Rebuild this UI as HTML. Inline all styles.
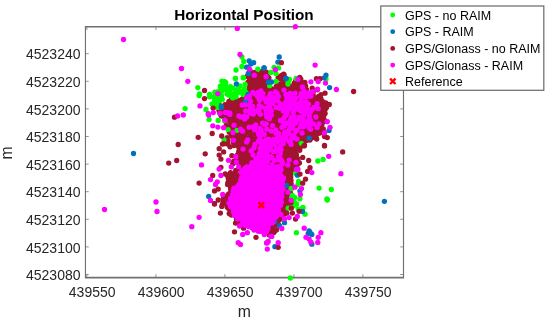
<!DOCTYPE html><html><head><meta charset="utf-8"><title>Horizontal Position</title><style>
html,body{margin:0;padding:0;background:#fff}
#fig{position:relative;width:550px;height:325px;overflow:hidden;background:#fff;font-family:"Liberation Sans",sans-serif;color:#262626}
.t{position:absolute;white-space:nowrap;line-height:1}
.xt{font-size:14px;transform:translateX(-50%);top:285.2px;margin-left:4.7px}
.yt{font-size:14px;transform:translateY(-50%);right:469.5px;text-align:right}
.lg{font-size:12.5px;left:405px;color:#000;transform:translateY(-50%)}
</style></head><body><div id="fig">
<svg width="550" height="325" viewBox="0 0 550 325" style="position:absolute;left:0;top:0"><rect width="550" height="325" fill="#fff"/><path d="M84.9 26.7 H404.05 M84.9 277.6 H404.05" stroke="#707070" stroke-width="1.6" fill="none"/><path d="M85.45 26.7 V277.6 M403.5 26.7 V277.6" stroke="#707070" stroke-width="1.15" fill="none"/><path d="M86.9 277.6 v-3.4 M86.9 26.7 v3.4 M155.9 277.6 v-3.4 M155.9 26.7 v3.4 M224.9 277.6 v-3.4 M224.9 26.7 v3.4 M293.9 277.6 v-3.4 M293.9 26.7 v3.4 M362.9 277.6 v-3.4 M362.9 26.7 v3.4 M85.45 274.5 h3.3 M403.5 274.5 h-3.3 M85.45 246.9 h3.3 M403.5 246.9 h-3.3 M85.45 219.3 h3.3 M403.5 219.3 h-3.3 M85.45 191.7 h3.3 M403.5 191.7 h-3.3 M85.45 164.1 h3.3 M403.5 164.1 h-3.3 M85.45 136.5 h3.3 M403.5 136.5 h-3.3 M85.45 108.9 h3.3 M403.5 108.9 h-3.3 M85.45 81.3 h3.3 M403.5 81.3 h-3.3 M85.45 53.7 h3.3 M403.5 53.7 h-3.3" stroke="#707070" stroke-width="0.75" fill="none"/><g fill="#a2142f"><circle cx="250.0" cy="70.4" r="2.65"/><circle cx="254.4" cy="72.3" r="2.65"/><circle cx="261.4" cy="71.7" r="2.65"/><circle cx="264.4" cy="72.0" r="2.65"/><circle cx="266.3" cy="72.1" r="2.65"/><circle cx="249.2" cy="72.6" r="2.65"/><circle cx="251.7" cy="74.2" r="2.65"/><circle cx="254.4" cy="74.4" r="2.65"/><circle cx="256.0" cy="72.8" r="2.65"/><circle cx="261.0" cy="74.7" r="2.65"/><circle cx="264.9" cy="73.5" r="2.65"/><circle cx="283.6" cy="74.1" r="2.65"/><circle cx="247.1" cy="76.4" r="2.65"/><circle cx="251.0" cy="74.8" r="2.65"/><circle cx="252.1" cy="75.5" r="2.65"/><circle cx="254.1" cy="77.1" r="2.65"/><circle cx="258.7" cy="75.0" r="2.65"/><circle cx="260.9" cy="75.0" r="2.65"/><circle cx="264.6" cy="75.4" r="2.65"/><circle cx="267.4" cy="76.0" r="2.65"/><circle cx="279.4" cy="76.6" r="2.65"/><circle cx="281.6" cy="75.3" r="2.65"/><circle cx="284.1" cy="74.9" r="2.65"/><circle cx="250.2" cy="77.9" r="2.65"/><circle cx="253.7" cy="77.6" r="2.65"/><circle cx="256.1" cy="77.1" r="2.65"/><circle cx="259.3" cy="77.2" r="2.65"/><circle cx="261.4" cy="77.0" r="2.65"/><circle cx="264.6" cy="77.1" r="2.65"/><circle cx="268.9" cy="77.8" r="2.65"/><circle cx="278.2" cy="77.6" r="2.65"/><circle cx="280.6" cy="79.1" r="2.65"/><circle cx="284.2" cy="77.2" r="2.65"/><circle cx="300.8" cy="79.1" r="2.65"/><circle cx="249.3" cy="81.0" r="2.65"/><circle cx="253.4" cy="81.3" r="2.65"/><circle cx="255.5" cy="80.2" r="2.65"/><circle cx="258.4" cy="81.3" r="2.65"/><circle cx="259.7" cy="80.1" r="2.65"/><circle cx="262.7" cy="79.5" r="2.65"/><circle cx="266.4" cy="81.6" r="2.65"/><circle cx="267.9" cy="80.9" r="2.65"/><circle cx="283.7" cy="79.4" r="2.65"/><circle cx="285.2" cy="80.4" r="2.65"/><circle cx="295.6" cy="80.9" r="2.65"/><circle cx="297.6" cy="79.5" r="2.65"/><circle cx="300.6" cy="80.4" r="2.65"/><circle cx="247.9" cy="82.4" r="2.65"/><circle cx="252.1" cy="82.4" r="2.65"/><circle cx="253.6" cy="82.1" r="2.65"/><circle cx="256.2" cy="81.6" r="2.65"/><circle cx="260.1" cy="82.0" r="2.65"/><circle cx="262.2" cy="83.2" r="2.65"/><circle cx="263.7" cy="81.8" r="2.65"/><circle cx="267.3" cy="81.4" r="2.65"/><circle cx="269.9" cy="82.3" r="2.65"/><circle cx="280.8" cy="84.0" r="2.65"/><circle cx="284.3" cy="81.9" r="2.65"/><circle cx="294.2" cy="83.1" r="2.65"/><circle cx="298.2" cy="83.7" r="2.65"/><circle cx="299.9" cy="82.9" r="2.65"/><circle cx="303.5" cy="83.2" r="2.65"/><circle cx="250.3" cy="86.2" r="2.65"/><circle cx="254.0" cy="84.3" r="2.65"/><circle cx="256.4" cy="85.7" r="2.65"/><circle cx="258.5" cy="84.9" r="2.65"/><circle cx="260.3" cy="84.6" r="2.65"/><circle cx="262.9" cy="85.4" r="2.65"/><circle cx="265.3" cy="84.1" r="2.65"/><circle cx="268.8" cy="84.1" r="2.65"/><circle cx="277.6" cy="84.7" r="2.65"/><circle cx="278.7" cy="85.4" r="2.65"/><circle cx="282.1" cy="85.0" r="2.65"/><circle cx="287.0" cy="85.3" r="2.65"/><circle cx="289.9" cy="86.0" r="2.65"/><circle cx="293.0" cy="86.2" r="2.65"/><circle cx="296.5" cy="85.3" r="2.65"/><circle cx="297.4" cy="84.9" r="2.65"/><circle cx="301.1" cy="86.3" r="2.65"/><circle cx="304.5" cy="85.5" r="2.65"/><circle cx="305.7" cy="86.1" r="2.65"/><circle cx="249.4" cy="86.9" r="2.65"/><circle cx="251.5" cy="86.4" r="2.65"/><circle cx="254.0" cy="86.9" r="2.65"/><circle cx="256.0" cy="87.2" r="2.65"/><circle cx="258.6" cy="87.3" r="2.65"/><circle cx="262.0" cy="88.4" r="2.65"/><circle cx="265.7" cy="86.5" r="2.65"/><circle cx="267.6" cy="87.2" r="2.65"/><circle cx="271.2" cy="88.7" r="2.65"/><circle cx="276.2" cy="86.5" r="2.65"/><circle cx="281.4" cy="88.3" r="2.65"/><circle cx="283.5" cy="86.3" r="2.65"/><circle cx="285.4" cy="88.5" r="2.65"/><circle cx="289.1" cy="87.8" r="2.65"/><circle cx="293.0" cy="87.6" r="2.65"/><circle cx="295.6" cy="87.1" r="2.65"/><circle cx="297.8" cy="86.8" r="2.65"/><circle cx="299.7" cy="87.3" r="2.65"/><circle cx="302.4" cy="87.3" r="2.65"/><circle cx="247.1" cy="90.4" r="2.65"/><circle cx="249.8" cy="88.7" r="2.65"/><circle cx="251.5" cy="88.7" r="2.65"/><circle cx="255.8" cy="89.9" r="2.65"/><circle cx="257.0" cy="89.2" r="2.65"/><circle cx="260.9" cy="90.9" r="2.65"/><circle cx="263.2" cy="89.8" r="2.65"/><circle cx="265.1" cy="90.8" r="2.65"/><circle cx="267.6" cy="89.6" r="2.65"/><circle cx="272.0" cy="90.9" r="2.65"/><circle cx="274.8" cy="89.4" r="2.65"/><circle cx="275.9" cy="90.4" r="2.65"/><circle cx="279.9" cy="88.9" r="2.65"/><circle cx="281.4" cy="89.3" r="2.65"/><circle cx="285.1" cy="89.4" r="2.65"/><circle cx="288.7" cy="89.4" r="2.65"/><circle cx="290.4" cy="91.0" r="2.65"/><circle cx="293.7" cy="89.0" r="2.65"/><circle cx="296.5" cy="90.0" r="2.65"/><circle cx="297.4" cy="90.6" r="2.65"/><circle cx="301.8" cy="89.6" r="2.65"/><circle cx="304.1" cy="91.0" r="2.65"/><circle cx="306.5" cy="89.7" r="2.65"/><circle cx="247.9" cy="93.3" r="2.65"/><circle cx="251.7" cy="90.9" r="2.65"/><circle cx="252.9" cy="92.3" r="2.65"/><circle cx="258.0" cy="91.6" r="2.65"/><circle cx="258.2" cy="92.5" r="2.65"/><circle cx="260.8" cy="92.3" r="2.65"/><circle cx="265.3" cy="93.0" r="2.65"/><circle cx="267.6" cy="90.9" r="2.65"/><circle cx="269.3" cy="92.2" r="2.65"/><circle cx="272.9" cy="91.3" r="2.65"/><circle cx="275.4" cy="92.0" r="2.65"/><circle cx="278.3" cy="92.2" r="2.65"/><circle cx="281.2" cy="91.1" r="2.65"/><circle cx="283.3" cy="92.6" r="2.65"/><circle cx="287.7" cy="93.3" r="2.65"/><circle cx="290.1" cy="93.3" r="2.65"/><circle cx="291.8" cy="92.3" r="2.65"/><circle cx="294.8" cy="92.4" r="2.65"/><circle cx="296.1" cy="92.1" r="2.65"/><circle cx="298.6" cy="91.0" r="2.65"/><circle cx="303.8" cy="90.8" r="2.65"/><circle cx="306.2" cy="92.6" r="2.65"/><circle cx="308.7" cy="92.9" r="2.65"/><circle cx="313.2" cy="91.6" r="2.65"/><circle cx="245.8" cy="95.6" r="2.65"/><circle cx="253.7" cy="95.0" r="2.65"/><circle cx="255.2" cy="94.1" r="2.65"/><circle cx="257.4" cy="95.6" r="2.65"/><circle cx="259.9" cy="94.0" r="2.65"/><circle cx="262.9" cy="93.6" r="2.65"/><circle cx="266.2" cy="94.5" r="2.65"/><circle cx="269.6" cy="94.5" r="2.65"/><circle cx="270.4" cy="93.7" r="2.65"/><circle cx="273.7" cy="95.1" r="2.65"/><circle cx="277.0" cy="93.5" r="2.65"/><circle cx="279.8" cy="93.9" r="2.65"/><circle cx="283.6" cy="94.3" r="2.65"/><circle cx="286.0" cy="94.3" r="2.65"/><circle cx="288.9" cy="95.7" r="2.65"/><circle cx="291.2" cy="94.2" r="2.65"/><circle cx="292.2" cy="93.5" r="2.65"/><circle cx="295.1" cy="93.1" r="2.65"/><circle cx="299.4" cy="94.4" r="2.65"/><circle cx="301.2" cy="93.6" r="2.65"/><circle cx="303.4" cy="93.2" r="2.65"/><circle cx="307.0" cy="94.1" r="2.65"/><circle cx="309.7" cy="93.9" r="2.65"/><circle cx="313.1" cy="94.6" r="2.65"/><circle cx="243.7" cy="97.6" r="2.65"/><circle cx="246.7" cy="97.6" r="2.65"/><circle cx="249.4" cy="96.2" r="2.65"/><circle cx="252.4" cy="95.5" r="2.65"/><circle cx="253.6" cy="97.6" r="2.65"/><circle cx="257.8" cy="97.9" r="2.65"/><circle cx="258.2" cy="97.2" r="2.65"/><circle cx="263.4" cy="97.8" r="2.65"/><circle cx="264.0" cy="97.3" r="2.65"/><circle cx="268.8" cy="97.1" r="2.65"/><circle cx="270.8" cy="95.6" r="2.65"/><circle cx="275.8" cy="98.0" r="2.65"/><circle cx="278.3" cy="96.5" r="2.65"/><circle cx="279.7" cy="95.8" r="2.65"/><circle cx="283.0" cy="97.2" r="2.65"/><circle cx="286.9" cy="96.8" r="2.65"/><circle cx="288.5" cy="95.9" r="2.65"/><circle cx="292.3" cy="98.0" r="2.65"/><circle cx="295.7" cy="97.9" r="2.65"/><circle cx="298.4" cy="97.1" r="2.65"/><circle cx="300.6" cy="96.3" r="2.65"/><circle cx="302.7" cy="96.7" r="2.65"/><circle cx="306.3" cy="96.9" r="2.65"/><circle cx="308.7" cy="96.1" r="2.65"/><circle cx="310.9" cy="96.1" r="2.65"/><circle cx="312.2" cy="95.6" r="2.65"/><circle cx="316.2" cy="98.0" r="2.65"/><circle cx="318.6" cy="96.5" r="2.65"/><circle cx="231.5" cy="99.4" r="2.65"/><circle cx="235.1" cy="97.9" r="2.65"/><circle cx="238.1" cy="100.3" r="2.65"/><circle cx="241.8" cy="99.3" r="2.65"/><circle cx="245.9" cy="98.1" r="2.65"/><circle cx="246.5" cy="100.1" r="2.65"/><circle cx="249.7" cy="98.8" r="2.65"/><circle cx="252.0" cy="99.9" r="2.65"/><circle cx="255.2" cy="98.7" r="2.65"/><circle cx="257.9" cy="98.6" r="2.65"/><circle cx="260.5" cy="98.6" r="2.65"/><circle cx="263.3" cy="99.0" r="2.65"/><circle cx="266.0" cy="98.8" r="2.65"/><circle cx="270.1" cy="99.9" r="2.65"/><circle cx="274.9" cy="100.3" r="2.65"/><circle cx="277.4" cy="98.9" r="2.65"/><circle cx="278.9" cy="99.8" r="2.65"/><circle cx="283.6" cy="98.7" r="2.65"/><circle cx="283.7" cy="98.9" r="2.65"/><circle cx="287.1" cy="99.4" r="2.65"/><circle cx="294.3" cy="97.9" r="2.65"/><circle cx="296.7" cy="100.0" r="2.65"/><circle cx="298.8" cy="99.7" r="2.65"/><circle cx="301.9" cy="99.3" r="2.65"/><circle cx="304.5" cy="99.3" r="2.65"/><circle cx="308.0" cy="98.1" r="2.65"/><circle cx="308.9" cy="99.7" r="2.65"/><circle cx="311.4" cy="99.3" r="2.65"/><circle cx="314.7" cy="98.2" r="2.65"/><circle cx="318.5" cy="99.5" r="2.65"/><circle cx="321.0" cy="98.9" r="2.65"/><circle cx="228.9" cy="101.4" r="2.65"/><circle cx="233.2" cy="101.6" r="2.65"/><circle cx="236.4" cy="100.7" r="2.65"/><circle cx="238.1" cy="100.5" r="2.65"/><circle cx="240.1" cy="101.3" r="2.65"/><circle cx="244.1" cy="102.6" r="2.65"/><circle cx="245.0" cy="101.0" r="2.65"/><circle cx="247.8" cy="102.5" r="2.65"/><circle cx="250.6" cy="101.1" r="2.65"/><circle cx="254.6" cy="100.2" r="2.65"/><circle cx="255.5" cy="102.4" r="2.65"/><circle cx="259.6" cy="100.3" r="2.65"/><circle cx="261.7" cy="102.7" r="2.65"/><circle cx="265.8" cy="100.3" r="2.65"/><circle cx="266.2" cy="102.0" r="2.65"/><circle cx="269.6" cy="101.9" r="2.65"/><circle cx="275.8" cy="101.1" r="2.65"/><circle cx="277.6" cy="100.9" r="2.65"/><circle cx="279.7" cy="100.9" r="2.65"/><circle cx="283.1" cy="100.4" r="2.65"/><circle cx="286.3" cy="101.5" r="2.65"/><circle cx="294.3" cy="101.1" r="2.65"/><circle cx="297.1" cy="101.5" r="2.65"/><circle cx="300.7" cy="102.5" r="2.65"/><circle cx="301.3" cy="100.9" r="2.65"/><circle cx="306.1" cy="101.8" r="2.65"/><circle cx="307.2" cy="102.4" r="2.65"/><circle cx="311.2" cy="102.0" r="2.65"/><circle cx="313.3" cy="101.2" r="2.65"/><circle cx="317.1" cy="102.8" r="2.65"/><circle cx="319.7" cy="100.3" r="2.65"/><circle cx="322.8" cy="101.6" r="2.65"/><circle cx="325.8" cy="102.8" r="2.65"/><circle cx="219.1" cy="104.5" r="2.65"/><circle cx="225.0" cy="104.6" r="2.65"/><circle cx="229.0" cy="102.6" r="2.65"/><circle cx="231.9" cy="102.8" r="2.65"/><circle cx="232.5" cy="102.9" r="2.65"/><circle cx="237.7" cy="103.3" r="2.65"/><circle cx="240.0" cy="102.9" r="2.65"/><circle cx="242.2" cy="105.0" r="2.65"/><circle cx="244.7" cy="103.5" r="2.65"/><circle cx="246.6" cy="104.4" r="2.65"/><circle cx="249.9" cy="105.0" r="2.65"/><circle cx="252.1" cy="104.9" r="2.65"/><circle cx="254.2" cy="102.9" r="2.65"/><circle cx="257.5" cy="104.7" r="2.65"/><circle cx="262.0" cy="104.2" r="2.65"/><circle cx="263.1" cy="104.4" r="2.65"/><circle cx="265.0" cy="103.8" r="2.65"/><circle cx="268.9" cy="102.6" r="2.65"/><circle cx="272.9" cy="103.4" r="2.65"/><circle cx="273.3" cy="104.0" r="2.65"/><circle cx="276.1" cy="103.8" r="2.65"/><circle cx="280.4" cy="104.0" r="2.65"/><circle cx="281.5" cy="104.4" r="2.65"/><circle cx="286.0" cy="102.5" r="2.65"/><circle cx="287.7" cy="104.7" r="2.65"/><circle cx="291.1" cy="104.5" r="2.65"/><circle cx="291.9" cy="104.7" r="2.65"/><circle cx="294.9" cy="102.5" r="2.65"/><circle cx="299.6" cy="103.5" r="2.65"/><circle cx="305.1" cy="102.5" r="2.65"/><circle cx="306.1" cy="102.9" r="2.65"/><circle cx="308.5" cy="104.2" r="2.65"/><circle cx="311.2" cy="103.9" r="2.65"/><circle cx="313.8" cy="104.0" r="2.65"/><circle cx="317.1" cy="103.7" r="2.65"/><circle cx="320.5" cy="103.0" r="2.65"/><circle cx="321.5" cy="104.8" r="2.65"/><circle cx="221.8" cy="107.2" r="2.65"/><circle cx="225.2" cy="106.5" r="2.65"/><circle cx="226.0" cy="105.9" r="2.65"/><circle cx="228.7" cy="106.9" r="2.65"/><circle cx="232.7" cy="105.5" r="2.65"/><circle cx="235.4" cy="105.3" r="2.65"/><circle cx="238.8" cy="107.4" r="2.65"/><circle cx="240.1" cy="106.6" r="2.65"/><circle cx="244.1" cy="105.3" r="2.65"/><circle cx="245.5" cy="104.8" r="2.65"/><circle cx="247.3" cy="105.7" r="2.65"/><circle cx="252.6" cy="106.5" r="2.65"/><circle cx="254.6" cy="105.4" r="2.65"/><circle cx="257.3" cy="107.1" r="2.65"/><circle cx="259.2" cy="105.6" r="2.65"/><circle cx="261.6" cy="106.8" r="2.65"/><circle cx="265.3" cy="105.2" r="2.65"/><circle cx="268.8" cy="105.3" r="2.65"/><circle cx="269.3" cy="104.9" r="2.65"/><circle cx="272.0" cy="106.7" r="2.65"/><circle cx="276.1" cy="107.4" r="2.65"/><circle cx="277.2" cy="104.9" r="2.65"/><circle cx="284.7" cy="105.8" r="2.65"/><circle cx="286.8" cy="104.8" r="2.65"/><circle cx="287.8" cy="105.2" r="2.65"/><circle cx="291.9" cy="105.1" r="2.65"/><circle cx="295.4" cy="105.7" r="2.65"/><circle cx="311.0" cy="106.1" r="2.65"/><circle cx="312.2" cy="105.1" r="2.65"/><circle cx="316.6" cy="107.4" r="2.65"/><circle cx="318.2" cy="106.0" r="2.65"/><circle cx="322.3" cy="105.8" r="2.65"/><circle cx="324.2" cy="105.8" r="2.65"/><circle cx="326.5" cy="107.5" r="2.65"/><circle cx="220.1" cy="108.7" r="2.65"/><circle cx="222.5" cy="107.5" r="2.65"/><circle cx="224.6" cy="107.2" r="2.65"/><circle cx="228.3" cy="109.5" r="2.65"/><circle cx="230.3" cy="107.2" r="2.65"/><circle cx="233.7" cy="107.9" r="2.65"/><circle cx="235.7" cy="108.8" r="2.65"/><circle cx="240.3" cy="109.7" r="2.65"/><circle cx="241.4" cy="109.1" r="2.65"/><circle cx="245.3" cy="107.2" r="2.65"/><circle cx="246.3" cy="108.6" r="2.65"/><circle cx="250.9" cy="107.8" r="2.65"/><circle cx="252.2" cy="107.6" r="2.65"/><circle cx="256.1" cy="108.0" r="2.65"/><circle cx="258.6" cy="109.1" r="2.65"/><circle cx="259.7" cy="107.4" r="2.65"/><circle cx="264.3" cy="108.4" r="2.65"/><circle cx="265.8" cy="108.1" r="2.65"/><circle cx="270.1" cy="108.7" r="2.65"/><circle cx="272.1" cy="108.7" r="2.65"/><circle cx="275.0" cy="108.7" r="2.65"/><circle cx="278.2" cy="108.2" r="2.65"/><circle cx="286.0" cy="109.3" r="2.65"/><circle cx="288.7" cy="108.1" r="2.65"/><circle cx="289.8" cy="108.0" r="2.65"/><circle cx="294.0" cy="109.6" r="2.65"/><circle cx="295.5" cy="107.4" r="2.65"/><circle cx="298.9" cy="109.5" r="2.65"/><circle cx="300.6" cy="109.2" r="2.65"/><circle cx="312.4" cy="109.3" r="2.65"/><circle cx="313.9" cy="107.4" r="2.65"/><circle cx="318.2" cy="108.7" r="2.65"/><circle cx="320.0" cy="108.7" r="2.65"/><circle cx="321.6" cy="108.2" r="2.65"/><circle cx="219.0" cy="110.6" r="2.65"/><circle cx="222.1" cy="111.0" r="2.65"/><circle cx="225.2" cy="109.7" r="2.65"/><circle cx="225.8" cy="109.9" r="2.65"/><circle cx="229.2" cy="110.6" r="2.65"/><circle cx="232.6" cy="110.2" r="2.65"/><circle cx="234.6" cy="111.7" r="2.65"/><circle cx="236.5" cy="110.9" r="2.65"/><circle cx="241.5" cy="109.6" r="2.65"/><circle cx="243.9" cy="111.0" r="2.65"/><circle cx="245.7" cy="110.8" r="2.65"/><circle cx="248.5" cy="110.1" r="2.65"/><circle cx="254.1" cy="111.0" r="2.65"/><circle cx="258.0" cy="111.7" r="2.65"/><circle cx="258.5" cy="111.7" r="2.65"/><circle cx="261.2" cy="111.5" r="2.65"/><circle cx="266.0" cy="110.0" r="2.65"/><circle cx="266.6" cy="110.1" r="2.65"/><circle cx="271.3" cy="110.7" r="2.65"/><circle cx="272.5" cy="110.1" r="2.65"/><circle cx="276.2" cy="111.5" r="2.65"/><circle cx="278.2" cy="110.7" r="2.65"/><circle cx="280.9" cy="111.3" r="2.65"/><circle cx="283.2" cy="111.0" r="2.65"/><circle cx="285.2" cy="110.5" r="2.65"/><circle cx="287.8" cy="109.7" r="2.65"/><circle cx="293.0" cy="111.7" r="2.65"/><circle cx="294.0" cy="110.4" r="2.65"/><circle cx="296.2" cy="111.0" r="2.65"/><circle cx="299.6" cy="109.9" r="2.65"/><circle cx="301.3" cy="111.5" r="2.65"/><circle cx="305.9" cy="111.6" r="2.65"/><circle cx="311.3" cy="110.3" r="2.65"/><circle cx="313.0" cy="110.7" r="2.65"/><circle cx="315.5" cy="111.6" r="2.65"/><circle cx="319.1" cy="112.0" r="2.65"/><circle cx="320.6" cy="112.1" r="2.65"/><circle cx="325.0" cy="109.8" r="2.65"/><circle cx="220.0" cy="113.3" r="2.65"/><circle cx="223.4" cy="112.7" r="2.65"/><circle cx="225.3" cy="112.5" r="2.65"/><circle cx="227.8" cy="112.6" r="2.65"/><circle cx="229.8" cy="113.1" r="2.65"/><circle cx="234.8" cy="112.8" r="2.65"/><circle cx="236.5" cy="111.8" r="2.65"/><circle cx="239.9" cy="113.3" r="2.65"/><circle cx="241.4" cy="113.8" r="2.65"/><circle cx="245.3" cy="114.0" r="2.65"/><circle cx="247.9" cy="113.6" r="2.65"/><circle cx="250.0" cy="113.3" r="2.65"/><circle cx="253.5" cy="114.1" r="2.65"/><circle cx="256.0" cy="113.4" r="2.65"/><circle cx="259.2" cy="111.9" r="2.65"/><circle cx="260.4" cy="114.3" r="2.65"/><circle cx="263.6" cy="112.2" r="2.65"/><circle cx="266.1" cy="113.8" r="2.65"/><circle cx="272.2" cy="114.2" r="2.65"/><circle cx="273.6" cy="112.0" r="2.65"/><circle cx="277.6" cy="111.9" r="2.65"/><circle cx="279.7" cy="111.9" r="2.65"/><circle cx="281.9" cy="112.1" r="2.65"/><circle cx="286.2" cy="112.1" r="2.65"/><circle cx="287.1" cy="113.6" r="2.65"/><circle cx="290.0" cy="112.9" r="2.65"/><circle cx="293.0" cy="113.4" r="2.65"/><circle cx="297.0" cy="114.2" r="2.65"/><circle cx="297.8" cy="112.4" r="2.65"/><circle cx="301.6" cy="113.4" r="2.65"/><circle cx="305.3" cy="112.6" r="2.65"/><circle cx="305.5" cy="112.3" r="2.65"/><circle cx="310.3" cy="111.9" r="2.65"/><circle cx="311.4" cy="113.9" r="2.65"/><circle cx="314.1" cy="112.1" r="2.65"/><circle cx="318.7" cy="113.7" r="2.65"/><circle cx="320.8" cy="113.9" r="2.65"/><circle cx="322.2" cy="113.2" r="2.65"/><circle cx="325.1" cy="113.5" r="2.65"/><circle cx="221.2" cy="115.8" r="2.65"/><circle cx="224.9" cy="116.3" r="2.65"/><circle cx="226.2" cy="115.3" r="2.65"/><circle cx="229.8" cy="114.4" r="2.65"/><circle cx="232.1" cy="114.8" r="2.65"/><circle cx="234.3" cy="115.2" r="2.65"/><circle cx="238.9" cy="115.9" r="2.65"/><circle cx="241.5" cy="115.8" r="2.65"/><circle cx="243.5" cy="115.1" r="2.65"/><circle cx="244.7" cy="115.9" r="2.65"/><circle cx="249.1" cy="116.6" r="2.65"/><circle cx="251.6" cy="116.3" r="2.65"/><circle cx="254.8" cy="116.8" r="2.65"/><circle cx="255.4" cy="115.8" r="2.65"/><circle cx="260.4" cy="115.8" r="2.65"/><circle cx="260.8" cy="116.4" r="2.65"/><circle cx="266.1" cy="115.7" r="2.65"/><circle cx="268.2" cy="116.8" r="2.65"/><circle cx="271.3" cy="115.2" r="2.65"/><circle cx="272.4" cy="115.1" r="2.65"/><circle cx="275.3" cy="114.9" r="2.65"/><circle cx="277.2" cy="114.9" r="2.65"/><circle cx="280.0" cy="115.7" r="2.65"/><circle cx="284.5" cy="115.0" r="2.65"/><circle cx="285.6" cy="115.6" r="2.65"/><circle cx="287.8" cy="114.9" r="2.65"/><circle cx="291.2" cy="115.4" r="2.65"/><circle cx="293.9" cy="115.6" r="2.65"/><circle cx="296.8" cy="114.9" r="2.65"/><circle cx="300.6" cy="116.0" r="2.65"/><circle cx="303.6" cy="116.1" r="2.65"/><circle cx="304.3" cy="116.1" r="2.65"/><circle cx="309.3" cy="116.2" r="2.65"/><circle cx="310.9" cy="115.8" r="2.65"/><circle cx="312.4" cy="116.7" r="2.65"/><circle cx="315.5" cy="116.8" r="2.65"/><circle cx="317.6" cy="115.9" r="2.65"/><circle cx="320.7" cy="114.9" r="2.65"/><circle cx="323.7" cy="115.9" r="2.65"/><circle cx="223.4" cy="116.8" r="2.65"/><circle cx="226.2" cy="117.3" r="2.65"/><circle cx="228.6" cy="117.6" r="2.65"/><circle cx="230.4" cy="117.2" r="2.65"/><circle cx="233.3" cy="118.5" r="2.65"/><circle cx="235.6" cy="116.5" r="2.65"/><circle cx="239.8" cy="119.1" r="2.65"/><circle cx="240.7" cy="116.9" r="2.65"/><circle cx="244.9" cy="118.1" r="2.65"/><circle cx="246.7" cy="117.1" r="2.65"/><circle cx="249.0" cy="116.5" r="2.65"/><circle cx="252.4" cy="117.5" r="2.65"/><circle cx="254.8" cy="118.7" r="2.65"/><circle cx="257.0" cy="116.5" r="2.65"/><circle cx="261.8" cy="116.6" r="2.65"/><circle cx="262.7" cy="118.3" r="2.65"/><circle cx="266.8" cy="117.1" r="2.65"/><circle cx="270.1" cy="118.9" r="2.65"/><circle cx="271.7" cy="116.6" r="2.65"/><circle cx="275.4" cy="116.6" r="2.65"/><circle cx="275.7" cy="118.8" r="2.65"/><circle cx="278.5" cy="117.4" r="2.65"/><circle cx="282.2" cy="118.1" r="2.65"/><circle cx="284.0" cy="117.9" r="2.65"/><circle cx="287.6" cy="118.6" r="2.65"/><circle cx="291.3" cy="117.1" r="2.65"/><circle cx="293.9" cy="116.5" r="2.65"/><circle cx="295.9" cy="118.4" r="2.65"/><circle cx="299.1" cy="117.1" r="2.65"/><circle cx="301.2" cy="117.2" r="2.65"/><circle cx="302.8" cy="118.3" r="2.65"/><circle cx="305.4" cy="116.8" r="2.65"/><circle cx="310.3" cy="118.8" r="2.65"/><circle cx="313.4" cy="116.9" r="2.65"/><circle cx="315.9" cy="117.0" r="2.65"/><circle cx="316.4" cy="116.7" r="2.65"/><circle cx="320.4" cy="117.7" r="2.65"/><circle cx="323.2" cy="116.8" r="2.65"/><circle cx="225.3" cy="121.3" r="2.65"/><circle cx="229.7" cy="119.2" r="2.65"/><circle cx="231.2" cy="120.0" r="2.65"/><circle cx="234.9" cy="121.0" r="2.65"/><circle cx="238.8" cy="120.0" r="2.65"/><circle cx="239.3" cy="120.9" r="2.65"/><circle cx="243.0" cy="119.2" r="2.65"/><circle cx="244.7" cy="119.1" r="2.65"/><circle cx="248.4" cy="119.2" r="2.65"/><circle cx="251.6" cy="121.1" r="2.65"/><circle cx="253.1" cy="119.5" r="2.65"/><circle cx="256.9" cy="120.5" r="2.65"/><circle cx="258.2" cy="119.3" r="2.65"/><circle cx="263.0" cy="121.3" r="2.65"/><circle cx="264.2" cy="118.9" r="2.65"/><circle cx="267.3" cy="121.3" r="2.65"/><circle cx="269.4" cy="118.8" r="2.65"/><circle cx="273.7" cy="121.1" r="2.65"/><circle cx="274.3" cy="120.4" r="2.65"/><circle cx="278.6" cy="121.3" r="2.65"/><circle cx="280.4" cy="120.4" r="2.65"/><circle cx="284.4" cy="119.5" r="2.65"/><circle cx="286.9" cy="121.2" r="2.65"/><circle cx="290.3" cy="120.4" r="2.65"/><circle cx="292.2" cy="119.6" r="2.65"/><circle cx="293.3" cy="120.4" r="2.65"/><circle cx="296.1" cy="120.9" r="2.65"/><circle cx="300.6" cy="119.5" r="2.65"/><circle cx="303.8" cy="121.0" r="2.65"/><circle cx="306.6" cy="120.4" r="2.65"/><circle cx="308.3" cy="120.4" r="2.65"/><circle cx="310.4" cy="120.3" r="2.65"/><circle cx="313.8" cy="121.1" r="2.65"/><circle cx="315.4" cy="118.9" r="2.65"/><circle cx="318.6" cy="121.1" r="2.65"/><circle cx="321.5" cy="120.4" r="2.65"/><circle cx="324.7" cy="120.3" r="2.65"/><circle cx="230.5" cy="122.1" r="2.65"/><circle cx="234.4" cy="123.1" r="2.65"/><circle cx="237.7" cy="123.8" r="2.65"/><circle cx="240.5" cy="122.8" r="2.65"/><circle cx="240.7" cy="121.2" r="2.65"/><circle cx="245.1" cy="122.8" r="2.65"/><circle cx="247.1" cy="123.1" r="2.65"/><circle cx="250.3" cy="122.6" r="2.65"/><circle cx="252.8" cy="121.4" r="2.65"/><circle cx="255.9" cy="122.3" r="2.65"/><circle cx="258.0" cy="121.6" r="2.65"/><circle cx="260.4" cy="121.6" r="2.65"/><circle cx="262.6" cy="123.1" r="2.65"/><circle cx="266.2" cy="123.8" r="2.65"/><circle cx="269.8" cy="121.2" r="2.65"/><circle cx="272.7" cy="122.3" r="2.65"/><circle cx="274.1" cy="121.6" r="2.65"/><circle cx="276.8" cy="123.5" r="2.65"/><circle cx="279.8" cy="122.4" r="2.65"/><circle cx="283.1" cy="122.8" r="2.65"/><circle cx="286.3" cy="122.8" r="2.65"/><circle cx="287.9" cy="123.5" r="2.65"/><circle cx="295.6" cy="122.8" r="2.65"/><circle cx="298.9" cy="122.4" r="2.65"/><circle cx="302.1" cy="121.8" r="2.65"/><circle cx="304.1" cy="122.0" r="2.65"/><circle cx="307.2" cy="122.3" r="2.65"/><circle cx="308.7" cy="123.5" r="2.65"/><circle cx="313.0" cy="122.3" r="2.65"/><circle cx="315.0" cy="122.5" r="2.65"/><circle cx="317.6" cy="123.7" r="2.65"/><circle cx="319.0" cy="123.8" r="2.65"/><circle cx="321.6" cy="123.3" r="2.65"/><circle cx="324.3" cy="121.6" r="2.65"/><circle cx="327.0" cy="121.6" r="2.65"/><circle cx="226.3" cy="125.3" r="2.65"/><circle cx="231.0" cy="124.4" r="2.65"/><circle cx="232.3" cy="124.8" r="2.65"/><circle cx="234.0" cy="125.2" r="2.65"/><circle cx="236.5" cy="123.7" r="2.65"/><circle cx="239.7" cy="124.2" r="2.65"/><circle cx="243.1" cy="123.9" r="2.65"/><circle cx="247.2" cy="125.2" r="2.65"/><circle cx="248.7" cy="125.4" r="2.65"/><circle cx="252.1" cy="124.1" r="2.65"/><circle cx="252.9" cy="123.8" r="2.65"/><circle cx="255.8" cy="125.0" r="2.65"/><circle cx="260.6" cy="124.6" r="2.65"/><circle cx="263.3" cy="124.7" r="2.65"/><circle cx="264.8" cy="124.6" r="2.65"/><circle cx="267.9" cy="126.0" r="2.65"/><circle cx="269.7" cy="124.9" r="2.65"/><circle cx="272.6" cy="125.6" r="2.65"/><circle cx="275.6" cy="124.9" r="2.65"/><circle cx="278.9" cy="124.2" r="2.65"/><circle cx="280.3" cy="125.1" r="2.65"/><circle cx="284.2" cy="124.6" r="2.65"/><circle cx="286.5" cy="123.8" r="2.65"/><circle cx="288.4" cy="124.3" r="2.65"/><circle cx="294.8" cy="123.8" r="2.65"/><circle cx="296.2" cy="123.5" r="2.65"/><circle cx="301.2" cy="124.5" r="2.65"/><circle cx="303.2" cy="125.3" r="2.65"/><circle cx="306.0" cy="123.7" r="2.65"/><circle cx="308.8" cy="125.5" r="2.65"/><circle cx="310.7" cy="125.6" r="2.65"/><circle cx="313.5" cy="124.0" r="2.65"/><circle cx="315.3" cy="124.9" r="2.65"/><circle cx="318.7" cy="125.2" r="2.65"/><circle cx="321.9" cy="124.6" r="2.65"/><circle cx="230.8" cy="127.3" r="2.65"/><circle cx="233.4" cy="125.8" r="2.65"/><circle cx="236.4" cy="128.4" r="2.65"/><circle cx="240.2" cy="128.4" r="2.65"/><circle cx="241.3" cy="125.9" r="2.65"/><circle cx="243.4" cy="126.6" r="2.65"/><circle cx="247.7" cy="128.0" r="2.65"/><circle cx="249.1" cy="127.2" r="2.65"/><circle cx="254.8" cy="127.6" r="2.65"/><circle cx="257.4" cy="126.0" r="2.65"/><circle cx="261.0" cy="127.7" r="2.65"/><circle cx="264.6" cy="127.8" r="2.65"/><circle cx="267.2" cy="126.3" r="2.65"/><circle cx="269.0" cy="127.4" r="2.65"/><circle cx="272.0" cy="125.9" r="2.65"/><circle cx="274.2" cy="126.4" r="2.65"/><circle cx="277.3" cy="128.1" r="2.65"/><circle cx="279.0" cy="127.1" r="2.65"/><circle cx="282.0" cy="127.4" r="2.65"/><circle cx="284.4" cy="126.1" r="2.65"/><circle cx="287.8" cy="127.8" r="2.65"/><circle cx="292.6" cy="128.2" r="2.65"/><circle cx="296.8" cy="126.5" r="2.65"/><circle cx="299.0" cy="126.3" r="2.65"/><circle cx="300.3" cy="126.9" r="2.65"/><circle cx="303.5" cy="126.8" r="2.65"/><circle cx="306.4" cy="126.1" r="2.65"/><circle cx="309.0" cy="127.7" r="2.65"/><circle cx="313.3" cy="128.2" r="2.65"/><circle cx="315.7" cy="128.3" r="2.65"/><circle cx="317.2" cy="127.4" r="2.65"/><circle cx="319.8" cy="126.7" r="2.65"/><circle cx="321.5" cy="127.8" r="2.65"/><circle cx="228.7" cy="128.2" r="2.65"/><circle cx="231.5" cy="128.4" r="2.65"/><circle cx="234.0" cy="128.5" r="2.65"/><circle cx="237.3" cy="130.3" r="2.65"/><circle cx="240.6" cy="129.2" r="2.65"/><circle cx="244.1" cy="129.2" r="2.65"/><circle cx="244.8" cy="129.3" r="2.65"/><circle cx="247.7" cy="128.3" r="2.65"/><circle cx="252.5" cy="130.8" r="2.65"/><circle cx="254.6" cy="129.8" r="2.65"/><circle cx="255.8" cy="129.9" r="2.65"/><circle cx="259.9" cy="128.3" r="2.65"/><circle cx="261.1" cy="130.2" r="2.65"/><circle cx="264.2" cy="130.3" r="2.65"/><circle cx="266.9" cy="129.2" r="2.65"/><circle cx="269.0" cy="128.2" r="2.65"/><circle cx="273.9" cy="129.6" r="2.65"/><circle cx="275.7" cy="130.0" r="2.65"/><circle cx="278.1" cy="129.8" r="2.65"/><circle cx="281.4" cy="129.1" r="2.65"/><circle cx="282.9" cy="129.5" r="2.65"/><circle cx="286.5" cy="128.3" r="2.65"/><circle cx="289.7" cy="128.6" r="2.65"/><circle cx="293.1" cy="129.8" r="2.65"/><circle cx="295.2" cy="130.8" r="2.65"/><circle cx="296.9" cy="130.2" r="2.65"/><circle cx="299.8" cy="128.9" r="2.65"/><circle cx="303.2" cy="130.5" r="2.65"/><circle cx="305.8" cy="128.4" r="2.65"/><circle cx="309.2" cy="129.8" r="2.65"/><circle cx="310.7" cy="129.3" r="2.65"/><circle cx="312.6" cy="130.3" r="2.65"/><circle cx="314.9" cy="129.8" r="2.65"/><circle cx="319.2" cy="128.6" r="2.65"/><circle cx="320.6" cy="129.5" r="2.65"/><circle cx="323.3" cy="128.9" r="2.65"/><circle cx="229.3" cy="132.2" r="2.65"/><circle cx="232.0" cy="132.8" r="2.65"/><circle cx="233.0" cy="132.5" r="2.65"/><circle cx="235.6" cy="131.4" r="2.65"/><circle cx="237.9" cy="130.9" r="2.65"/><circle cx="242.6" cy="131.2" r="2.65"/><circle cx="245.5" cy="133.1" r="2.65"/><circle cx="247.4" cy="130.7" r="2.65"/><circle cx="250.4" cy="132.7" r="2.65"/><circle cx="252.7" cy="133.1" r="2.65"/><circle cx="255.2" cy="132.2" r="2.65"/><circle cx="258.3" cy="133.0" r="2.65"/><circle cx="261.8" cy="132.9" r="2.65"/><circle cx="262.2" cy="132.1" r="2.65"/><circle cx="267.4" cy="132.0" r="2.65"/><circle cx="269.6" cy="130.9" r="2.65"/><circle cx="271.4" cy="131.1" r="2.65"/><circle cx="273.9" cy="132.5" r="2.65"/><circle cx="276.5" cy="130.6" r="2.65"/><circle cx="280.3" cy="132.7" r="2.65"/><circle cx="281.2" cy="131.2" r="2.65"/><circle cx="284.5" cy="132.7" r="2.65"/><circle cx="286.4" cy="131.7" r="2.65"/><circle cx="289.2" cy="132.1" r="2.65"/><circle cx="293.3" cy="130.7" r="2.65"/><circle cx="295.9" cy="131.3" r="2.65"/><circle cx="297.6" cy="131.8" r="2.65"/><circle cx="301.5" cy="132.3" r="2.65"/><circle cx="304.2" cy="131.2" r="2.65"/><circle cx="305.9" cy="132.1" r="2.65"/><circle cx="310.2" cy="131.9" r="2.65"/><circle cx="313.4" cy="132.6" r="2.65"/><circle cx="314.1" cy="132.2" r="2.65"/><circle cx="316.6" cy="130.7" r="2.65"/><circle cx="319.8" cy="133.0" r="2.65"/><circle cx="322.9" cy="131.4" r="2.65"/><circle cx="324.5" cy="132.8" r="2.65"/><circle cx="231.2" cy="134.9" r="2.65"/><circle cx="234.0" cy="135.3" r="2.65"/><circle cx="238.1" cy="134.4" r="2.65"/><circle cx="240.1" cy="133.2" r="2.65"/><circle cx="242.9" cy="134.4" r="2.65"/><circle cx="244.8" cy="134.0" r="2.65"/><circle cx="249.8" cy="134.5" r="2.65"/><circle cx="251.2" cy="132.9" r="2.65"/><circle cx="252.8" cy="133.2" r="2.65"/><circle cx="256.8" cy="133.4" r="2.65"/><circle cx="258.9" cy="134.7" r="2.65"/><circle cx="263.0" cy="134.0" r="2.65"/><circle cx="264.2" cy="134.5" r="2.65"/><circle cx="268.6" cy="133.4" r="2.65"/><circle cx="269.0" cy="134.1" r="2.65"/><circle cx="272.1" cy="133.3" r="2.65"/><circle cx="276.0" cy="133.2" r="2.65"/><circle cx="278.6" cy="133.5" r="2.65"/><circle cx="281.5" cy="135.2" r="2.65"/><circle cx="284.7" cy="133.4" r="2.65"/><circle cx="286.7" cy="134.5" r="2.65"/><circle cx="289.2" cy="133.5" r="2.65"/><circle cx="290.7" cy="133.0" r="2.65"/><circle cx="293.4" cy="135.2" r="2.65"/><circle cx="296.2" cy="135.4" r="2.65"/><circle cx="298.6" cy="133.9" r="2.65"/><circle cx="302.1" cy="133.0" r="2.65"/><circle cx="304.0" cy="134.0" r="2.65"/><circle cx="307.3" cy="135.3" r="2.65"/><circle cx="310.7" cy="135.0" r="2.65"/><circle cx="314.1" cy="134.9" r="2.65"/><circle cx="316.7" cy="133.8" r="2.65"/><circle cx="318.6" cy="133.1" r="2.65"/><circle cx="232.1" cy="136.3" r="2.65"/><circle cx="234.2" cy="137.3" r="2.65"/><circle cx="235.3" cy="135.7" r="2.65"/><circle cx="240.0" cy="137.7" r="2.65"/><circle cx="241.8" cy="137.6" r="2.65"/><circle cx="244.8" cy="137.6" r="2.65"/><circle cx="246.1" cy="137.8" r="2.65"/><circle cx="250.3" cy="137.2" r="2.65"/><circle cx="252.1" cy="137.6" r="2.65"/><circle cx="256.6" cy="135.4" r="2.65"/><circle cx="258.7" cy="137.7" r="2.65"/><circle cx="260.2" cy="135.4" r="2.65"/><circle cx="262.8" cy="136.7" r="2.65"/><circle cx="265.2" cy="135.4" r="2.65"/><circle cx="269.7" cy="135.5" r="2.65"/><circle cx="272.8" cy="136.1" r="2.65"/><circle cx="275.1" cy="135.2" r="2.65"/><circle cx="277.7" cy="137.2" r="2.65"/><circle cx="279.6" cy="137.7" r="2.65"/><circle cx="281.2" cy="136.9" r="2.65"/><circle cx="284.1" cy="135.7" r="2.65"/><circle cx="288.5" cy="136.7" r="2.65"/><circle cx="289.2" cy="135.7" r="2.65"/><circle cx="293.8" cy="135.4" r="2.65"/><circle cx="295.3" cy="136.3" r="2.65"/><circle cx="297.7" cy="135.4" r="2.65"/><circle cx="302.5" cy="136.9" r="2.65"/><circle cx="302.9" cy="136.8" r="2.65"/><circle cx="307.6" cy="136.8" r="2.65"/><circle cx="310.5" cy="137.7" r="2.65"/><circle cx="311.9" cy="135.4" r="2.65"/><circle cx="314.0" cy="137.0" r="2.65"/><circle cx="316.1" cy="137.6" r="2.65"/><circle cx="324.5" cy="136.6" r="2.65"/><circle cx="227.2" cy="137.6" r="2.65"/><circle cx="233.4" cy="137.9" r="2.65"/><circle cx="234.6" cy="138.9" r="2.65"/><circle cx="238.7" cy="139.8" r="2.65"/><circle cx="239.2" cy="138.4" r="2.65"/><circle cx="241.9" cy="138.4" r="2.65"/><circle cx="246.9" cy="138.1" r="2.65"/><circle cx="247.7" cy="139.8" r="2.65"/><circle cx="251.1" cy="138.1" r="2.65"/><circle cx="255.3" cy="139.4" r="2.65"/><circle cx="256.3" cy="140.1" r="2.65"/><circle cx="259.8" cy="138.1" r="2.65"/><circle cx="262.2" cy="138.8" r="2.65"/><circle cx="266.1" cy="139.7" r="2.65"/><circle cx="268.8" cy="139.2" r="2.65"/><circle cx="269.4" cy="140.1" r="2.65"/><circle cx="273.5" cy="139.3" r="2.65"/><circle cx="276.8" cy="138.3" r="2.65"/><circle cx="278.4" cy="138.8" r="2.65"/><circle cx="282.1" cy="139.8" r="2.65"/><circle cx="284.7" cy="138.0" r="2.65"/><circle cx="285.9" cy="137.6" r="2.65"/><circle cx="287.8" cy="140.1" r="2.65"/><circle cx="291.7" cy="137.7" r="2.65"/><circle cx="295.2" cy="138.3" r="2.65"/><circle cx="297.0" cy="139.1" r="2.65"/><circle cx="299.6" cy="139.0" r="2.65"/><circle cx="302.3" cy="140.2" r="2.65"/><circle cx="306.0" cy="137.7" r="2.65"/><circle cx="308.1" cy="138.0" r="2.65"/><circle cx="311.7" cy="137.9" r="2.65"/><circle cx="316.7" cy="139.0" r="2.65"/><circle cx="225.4" cy="141.2" r="2.65"/><circle cx="228.0" cy="140.5" r="2.65"/><circle cx="233.6" cy="140.3" r="2.65"/><circle cx="237.0" cy="141.5" r="2.65"/><circle cx="239.2" cy="140.9" r="2.65"/><circle cx="240.6" cy="140.5" r="2.65"/><circle cx="244.1" cy="140.7" r="2.65"/><circle cx="246.7" cy="141.9" r="2.65"/><circle cx="250.1" cy="141.8" r="2.65"/><circle cx="253.3" cy="140.8" r="2.65"/><circle cx="254.3" cy="140.7" r="2.65"/><circle cx="258.4" cy="141.1" r="2.65"/><circle cx="260.9" cy="142.2" r="2.65"/><circle cx="262.7" cy="141.5" r="2.65"/><circle cx="265.1" cy="140.0" r="2.65"/><circle cx="269.9" cy="141.9" r="2.65"/><circle cx="272.6" cy="142.1" r="2.65"/><circle cx="273.9" cy="142.5" r="2.65"/><circle cx="277.3" cy="141.5" r="2.65"/><circle cx="278.5" cy="140.7" r="2.65"/><circle cx="282.7" cy="141.6" r="2.65"/><circle cx="286.2" cy="139.8" r="2.65"/><circle cx="286.7" cy="140.8" r="2.65"/><circle cx="290.4" cy="142.0" r="2.65"/><circle cx="292.8" cy="142.0" r="2.65"/><circle cx="296.5" cy="141.5" r="2.65"/><circle cx="297.3" cy="140.8" r="2.65"/><circle cx="300.9" cy="140.6" r="2.65"/><circle cx="304.2" cy="141.7" r="2.65"/><circle cx="306.4" cy="140.6" r="2.65"/><circle cx="309.9" cy="140.1" r="2.65"/><circle cx="222.4" cy="144.1" r="2.65"/><circle cx="225.5" cy="143.7" r="2.65"/><circle cx="228.0" cy="144.1" r="2.65"/><circle cx="233.4" cy="142.2" r="2.65"/><circle cx="234.9" cy="144.5" r="2.65"/><circle cx="241.3" cy="143.9" r="2.65"/><circle cx="242.2" cy="143.0" r="2.65"/><circle cx="246.7" cy="144.2" r="2.65"/><circle cx="249.6" cy="143.6" r="2.65"/><circle cx="252.2" cy="143.6" r="2.65"/><circle cx="255.0" cy="144.4" r="2.65"/><circle cx="255.4" cy="144.1" r="2.65"/><circle cx="258.6" cy="144.5" r="2.65"/><circle cx="261.2" cy="142.6" r="2.65"/><circle cx="269.2" cy="144.1" r="2.65"/><circle cx="274.0" cy="143.4" r="2.65"/><circle cx="274.9" cy="144.5" r="2.65"/><circle cx="279.4" cy="142.3" r="2.65"/><circle cx="279.7" cy="144.1" r="2.65"/><circle cx="283.2" cy="143.8" r="2.65"/><circle cx="285.2" cy="144.4" r="2.65"/><circle cx="289.9" cy="142.3" r="2.65"/><circle cx="291.1" cy="144.4" r="2.65"/><circle cx="293.2" cy="143.2" r="2.65"/><circle cx="298.1" cy="144.5" r="2.65"/><circle cx="303.0" cy="142.4" r="2.65"/><circle cx="233.8" cy="145.6" r="2.65"/><circle cx="237.9" cy="145.9" r="2.65"/><circle cx="241.8" cy="146.6" r="2.65"/><circle cx="245.2" cy="146.2" r="2.65"/><circle cx="246.2" cy="146.5" r="2.65"/><circle cx="249.6" cy="146.1" r="2.65"/><circle cx="253.6" cy="146.0" r="2.65"/><circle cx="254.1" cy="145.8" r="2.65"/><circle cx="258.3" cy="146.3" r="2.65"/><circle cx="272.4" cy="146.2" r="2.65"/><circle cx="273.7" cy="145.0" r="2.65"/><circle cx="277.8" cy="146.0" r="2.65"/><circle cx="282.1" cy="147.0" r="2.65"/><circle cx="284.2" cy="147.0" r="2.65"/><circle cx="287.4" cy="146.5" r="2.65"/><circle cx="291.0" cy="145.9" r="2.65"/><circle cx="294.3" cy="146.9" r="2.65"/><circle cx="295.5" cy="146.4" r="2.65"/><circle cx="297.5" cy="145.9" r="2.65"/><circle cx="301.6" cy="145.0" r="2.65"/><circle cx="239.3" cy="148.3" r="2.65"/><circle cx="243.0" cy="149.1" r="2.65"/><circle cx="245.2" cy="149.5" r="2.65"/><circle cx="247.4" cy="147.6" r="2.65"/><circle cx="251.4" cy="147.9" r="2.65"/><circle cx="253.9" cy="148.1" r="2.65"/><circle cx="256.7" cy="148.4" r="2.65"/><circle cx="270.5" cy="147.2" r="2.65"/><circle cx="271.9" cy="148.3" r="2.65"/><circle cx="276.6" cy="149.4" r="2.65"/><circle cx="282.2" cy="148.2" r="2.65"/><circle cx="282.5" cy="147.9" r="2.65"/><circle cx="287.3" cy="148.2" r="2.65"/><circle cx="289.8" cy="148.0" r="2.65"/><circle cx="291.8" cy="147.2" r="2.65"/><circle cx="295.4" cy="149.3" r="2.65"/><circle cx="297.9" cy="147.0" r="2.65"/><circle cx="299.9" cy="147.9" r="2.65"/><circle cx="239.3" cy="150.6" r="2.65"/><circle cx="243.0" cy="150.8" r="2.65"/><circle cx="244.5" cy="151.6" r="2.65"/><circle cx="247.3" cy="150.0" r="2.65"/><circle cx="251.2" cy="150.9" r="2.65"/><circle cx="252.7" cy="150.3" r="2.65"/><circle cx="254.8" cy="151.6" r="2.65"/><circle cx="258.9" cy="149.9" r="2.65"/><circle cx="260.9" cy="150.7" r="2.65"/><circle cx="264.6" cy="150.7" r="2.65"/><circle cx="265.8" cy="150.4" r="2.65"/><circle cx="268.7" cy="149.9" r="2.65"/><circle cx="271.2" cy="149.3" r="2.65"/><circle cx="273.2" cy="151.6" r="2.65"/><circle cx="276.3" cy="150.7" r="2.65"/><circle cx="285.6" cy="149.9" r="2.65"/><circle cx="287.4" cy="150.6" r="2.65"/><circle cx="290.6" cy="150.9" r="2.65"/><circle cx="292.5" cy="150.7" r="2.65"/><circle cx="299.7" cy="150.3" r="2.65"/><circle cx="238.7" cy="152.0" r="2.65"/><circle cx="239.5" cy="154.0" r="2.65"/><circle cx="242.0" cy="154.1" r="2.65"/><circle cx="246.4" cy="151.9" r="2.65"/><circle cx="248.5" cy="152.8" r="2.65"/><circle cx="250.4" cy="153.8" r="2.65"/><circle cx="254.7" cy="153.5" r="2.65"/><circle cx="256.8" cy="152.3" r="2.65"/><circle cx="259.2" cy="153.6" r="2.65"/><circle cx="261.8" cy="151.8" r="2.65"/><circle cx="264.0" cy="151.6" r="2.65"/><circle cx="267.2" cy="153.9" r="2.65"/><circle cx="271.5" cy="151.8" r="2.65"/><circle cx="272.5" cy="152.2" r="2.65"/><circle cx="275.2" cy="151.6" r="2.65"/><circle cx="278.8" cy="153.5" r="2.65"/><circle cx="280.3" cy="153.6" r="2.65"/><circle cx="283.7" cy="152.3" r="2.65"/><circle cx="287.5" cy="152.2" r="2.65"/><circle cx="290.2" cy="152.8" r="2.65"/><circle cx="291.9" cy="152.5" r="2.65"/><circle cx="294.9" cy="152.6" r="2.65"/><circle cx="296.1" cy="153.8" r="2.65"/><circle cx="237.4" cy="155.0" r="2.65"/><circle cx="240.2" cy="156.3" r="2.65"/><circle cx="242.8" cy="155.7" r="2.65"/><circle cx="245.7" cy="154.3" r="2.65"/><circle cx="246.9" cy="154.0" r="2.65"/><circle cx="249.3" cy="156.3" r="2.65"/><circle cx="253.1" cy="155.0" r="2.65"/><circle cx="254.8" cy="154.7" r="2.65"/><circle cx="258.8" cy="156.4" r="2.65"/><circle cx="260.0" cy="154.9" r="2.65"/><circle cx="262.7" cy="155.9" r="2.65"/><circle cx="266.3" cy="154.2" r="2.65"/><circle cx="268.3" cy="155.1" r="2.65"/><circle cx="272.2" cy="155.0" r="2.65"/><circle cx="273.6" cy="154.4" r="2.65"/><circle cx="277.7" cy="155.8" r="2.65"/><circle cx="280.3" cy="154.8" r="2.65"/><circle cx="283.0" cy="156.0" r="2.65"/><circle cx="286.2" cy="155.1" r="2.65"/><circle cx="287.6" cy="156.4" r="2.65"/><circle cx="290.5" cy="155.4" r="2.65"/><circle cx="294.1" cy="156.2" r="2.65"/><circle cx="296.4" cy="155.3" r="2.65"/><circle cx="235.9" cy="156.7" r="2.65"/><circle cx="237.8" cy="158.7" r="2.65"/><circle cx="240.0" cy="157.9" r="2.65"/><circle cx="243.2" cy="157.9" r="2.65"/><circle cx="247.0" cy="158.8" r="2.65"/><circle cx="249.4" cy="158.1" r="2.65"/><circle cx="250.5" cy="156.7" r="2.65"/><circle cx="253.8" cy="156.3" r="2.65"/><circle cx="255.7" cy="156.9" r="2.65"/><circle cx="258.6" cy="158.4" r="2.65"/><circle cx="262.9" cy="157.2" r="2.65"/><circle cx="265.3" cy="158.1" r="2.65"/><circle cx="271.0" cy="156.6" r="2.65"/><circle cx="271.9" cy="157.8" r="2.65"/><circle cx="275.2" cy="158.8" r="2.65"/><circle cx="278.3" cy="156.3" r="2.65"/><circle cx="279.9" cy="157.9" r="2.65"/><circle cx="282.8" cy="156.6" r="2.65"/><circle cx="286.8" cy="157.0" r="2.65"/><circle cx="288.5" cy="157.7" r="2.65"/><circle cx="290.8" cy="156.6" r="2.65"/><circle cx="293.9" cy="158.0" r="2.65"/><circle cx="237.8" cy="160.3" r="2.65"/><circle cx="238.5" cy="160.6" r="2.65"/><circle cx="241.7" cy="160.1" r="2.65"/><circle cx="243.9" cy="158.7" r="2.65"/><circle cx="247.3" cy="160.3" r="2.65"/><circle cx="249.3" cy="159.0" r="2.65"/><circle cx="251.7" cy="159.2" r="2.65"/><circle cx="255.8" cy="158.8" r="2.65"/><circle cx="258.0" cy="160.0" r="2.65"/><circle cx="261.2" cy="160.1" r="2.65"/><circle cx="270.9" cy="159.2" r="2.65"/><circle cx="274.4" cy="160.4" r="2.65"/><circle cx="278.1" cy="160.5" r="2.65"/><circle cx="278.6" cy="159.7" r="2.65"/><circle cx="281.6" cy="160.7" r="2.65"/><circle cx="284.3" cy="159.5" r="2.65"/><circle cx="286.8" cy="159.7" r="2.65"/><circle cx="289.2" cy="160.1" r="2.65"/><circle cx="292.7" cy="159.4" r="2.65"/><circle cx="295.7" cy="159.4" r="2.65"/><circle cx="298.0" cy="159.0" r="2.65"/><circle cx="233.7" cy="161.1" r="2.65"/><circle cx="236.4" cy="162.1" r="2.65"/><circle cx="236.9" cy="161.9" r="2.65"/><circle cx="242.4" cy="162.8" r="2.65"/><circle cx="245.8" cy="162.2" r="2.65"/><circle cx="249.4" cy="161.5" r="2.65"/><circle cx="252.0" cy="162.6" r="2.65"/><circle cx="253.0" cy="163.1" r="2.65"/><circle cx="256.0" cy="162.7" r="2.65"/><circle cx="260.9" cy="162.8" r="2.65"/><circle cx="271.4" cy="161.4" r="2.65"/><circle cx="271.7" cy="161.4" r="2.65"/><circle cx="274.5" cy="163.2" r="2.65"/><circle cx="277.5" cy="162.8" r="2.65"/><circle cx="284.7" cy="161.6" r="2.65"/><circle cx="286.0" cy="162.0" r="2.65"/><circle cx="289.8" cy="161.4" r="2.65"/><circle cx="293.1" cy="162.0" r="2.65"/><circle cx="294.9" cy="162.8" r="2.65"/><circle cx="299.4" cy="163.0" r="2.65"/><circle cx="239.4" cy="163.8" r="2.65"/><circle cx="241.3" cy="165.4" r="2.65"/><circle cx="243.3" cy="163.9" r="2.65"/><circle cx="247.2" cy="165.2" r="2.65"/><circle cx="249.3" cy="164.2" r="2.65"/><circle cx="252.1" cy="164.6" r="2.65"/><circle cx="255.0" cy="163.5" r="2.65"/><circle cx="270.0" cy="163.7" r="2.65"/><circle cx="272.1" cy="164.7" r="2.65"/><circle cx="275.1" cy="164.5" r="2.65"/><circle cx="278.1" cy="164.2" r="2.65"/><circle cx="279.5" cy="165.7" r="2.65"/><circle cx="285.5" cy="165.0" r="2.65"/><circle cx="287.8" cy="165.0" r="2.65"/><circle cx="290.4" cy="165.1" r="2.65"/><circle cx="294.0" cy="163.8" r="2.65"/><circle cx="297.1" cy="164.9" r="2.65"/><circle cx="297.7" cy="163.7" r="2.65"/><circle cx="280.2" cy="166.7" r="2.65"/><circle cx="284.9" cy="167.0" r="2.65"/><circle cx="286.5" cy="167.2" r="2.65"/><circle cx="289.9" cy="166.8" r="2.65"/><circle cx="292.5" cy="167.4" r="2.65"/><circle cx="295.1" cy="168.2" r="2.65"/><circle cx="296.0" cy="166.3" r="2.65"/><circle cx="235.7" cy="170.5" r="2.65"/><circle cx="240.5" cy="169.7" r="2.65"/><circle cx="284.5" cy="168.2" r="2.65"/><circle cx="287.0" cy="169.4" r="2.65"/><circle cx="290.6" cy="168.8" r="2.65"/><circle cx="292.3" cy="168.7" r="2.65"/><circle cx="294.7" cy="169.2" r="2.65"/><circle cx="297.7" cy="169.2" r="2.65"/><circle cx="230.5" cy="172.6" r="2.65"/><circle cx="283.0" cy="170.5" r="2.65"/><circle cx="287.7" cy="172.8" r="2.65"/><circle cx="289.7" cy="170.3" r="2.65"/><circle cx="292.0" cy="171.7" r="2.65"/><circle cx="293.2" cy="171.9" r="2.65"/><circle cx="225.2" cy="174.0" r="2.65"/><circle cx="227.7" cy="175.1" r="2.65"/><circle cx="231.2" cy="174.7" r="2.65"/><circle cx="234.4" cy="173.7" r="2.65"/><circle cx="235.3" cy="175.1" r="2.65"/><circle cx="238.8" cy="174.9" r="2.65"/><circle cx="282.6" cy="172.8" r="2.65"/><circle cx="285.7" cy="173.2" r="2.65"/><circle cx="286.8" cy="173.9" r="2.65"/><circle cx="290.6" cy="173.3" r="2.65"/><circle cx="292.5" cy="172.6" r="2.65"/><circle cx="227.9" cy="176.5" r="2.65"/><circle cx="229.8" cy="175.8" r="2.65"/><circle cx="231.4" cy="177.6" r="2.65"/><circle cx="234.9" cy="176.6" r="2.65"/><circle cx="238.1" cy="175.1" r="2.65"/><circle cx="239.4" cy="177.3" r="2.65"/><circle cx="285.0" cy="175.5" r="2.65"/><circle cx="285.8" cy="175.9" r="2.65"/><circle cx="290.4" cy="175.9" r="2.65"/><circle cx="290.7" cy="177.2" r="2.65"/><circle cx="228.4" cy="178.7" r="2.65"/><circle cx="230.6" cy="179.9" r="2.65"/><circle cx="233.7" cy="177.5" r="2.65"/><circle cx="235.2" cy="178.5" r="2.65"/><circle cx="238.9" cy="177.8" r="2.65"/><circle cx="286.1" cy="178.6" r="2.65"/><circle cx="286.7" cy="178.7" r="2.65"/><circle cx="290.1" cy="177.9" r="2.65"/><circle cx="228.9" cy="180.6" r="2.65"/><circle cx="232.3" cy="181.2" r="2.65"/><circle cx="234.2" cy="181.3" r="2.65"/><circle cx="237.6" cy="180.3" r="2.65"/><circle cx="287.1" cy="180.1" r="2.65"/><circle cx="289.2" cy="180.0" r="2.65"/><circle cx="291.0" cy="180.4" r="2.65"/><circle cx="227.9" cy="182.7" r="2.65"/><circle cx="231.7" cy="182.9" r="2.65"/><circle cx="234.1" cy="182.9" r="2.65"/><circle cx="235.9" cy="182.2" r="2.65"/><circle cx="285.6" cy="183.9" r="2.65"/><circle cx="288.5" cy="182.5" r="2.65"/><circle cx="291.2" cy="183.9" r="2.65"/><circle cx="227.6" cy="184.5" r="2.65"/><circle cx="230.7" cy="184.5" r="2.65"/><circle cx="233.1" cy="186.5" r="2.65"/><circle cx="234.9" cy="185.2" r="2.65"/><circle cx="283.8" cy="184.9" r="2.65"/><circle cx="286.3" cy="186.8" r="2.65"/><circle cx="288.9" cy="186.5" r="2.65"/><circle cx="230.6" cy="187.0" r="2.65"/><circle cx="285.4" cy="188.0" r="2.65"/><circle cx="288.8" cy="186.8" r="2.65"/><circle cx="291.6" cy="188.1" r="2.65"/><circle cx="230.6" cy="189.1" r="2.65"/><circle cx="284.5" cy="190.2" r="2.65"/><circle cx="287.4" cy="190.1" r="2.65"/><circle cx="290.8" cy="189.5" r="2.65"/><circle cx="228.6" cy="193.8" r="2.65"/><circle cx="231.1" cy="192.0" r="2.65"/><circle cx="285.4" cy="193.3" r="2.65"/><circle cx="288.1" cy="192.2" r="2.65"/><circle cx="290.5" cy="193.6" r="2.65"/><circle cx="227.1" cy="195.7" r="2.65"/><circle cx="285.0" cy="194.3" r="2.65"/><circle cx="285.3" cy="193.9" r="2.65"/><circle cx="288.7" cy="194.6" r="2.65"/><circle cx="291.0" cy="196.2" r="2.65"/><circle cx="223.6" cy="197.4" r="2.65"/><circle cx="228.1" cy="198.1" r="2.65"/><circle cx="285.7" cy="198.6" r="2.65"/><circle cx="291.5" cy="198.1" r="2.65"/><circle cx="223.0" cy="199.4" r="2.65"/><circle cx="228.3" cy="200.2" r="2.65"/><circle cx="282.8" cy="200.3" r="2.65"/><circle cx="287.7" cy="199.2" r="2.65"/><circle cx="288.7" cy="200.4" r="2.65"/><circle cx="291.1" cy="200.3" r="2.65"/><circle cx="223.0" cy="202.9" r="2.65"/><circle cx="226.4" cy="203.3" r="2.65"/><circle cx="227.9" cy="201.1" r="2.65"/><circle cx="284.5" cy="202.4" r="2.65"/><circle cx="287.6" cy="201.8" r="2.65"/><circle cx="289.6" cy="201.5" r="2.65"/><circle cx="222.4" cy="204.3" r="2.65"/><circle cx="226.2" cy="203.1" r="2.65"/><circle cx="283.0" cy="205.1" r="2.65"/><circle cx="287.2" cy="203.2" r="2.65"/><circle cx="287.9" cy="204.2" r="2.65"/><circle cx="227.1" cy="206.9" r="2.65"/><circle cx="282.6" cy="207.4" r="2.65"/><circle cx="285.4" cy="206.2" r="2.65"/><circle cx="228.2" cy="207.7" r="2.65"/><circle cx="228.9" cy="208.7" r="2.65"/><circle cx="280.8" cy="207.9" r="2.65"/><circle cx="283.7" cy="208.9" r="2.65"/><circle cx="286.2" cy="208.6" r="2.65"/><circle cx="231.1" cy="212.5" r="2.65"/><circle cx="282.8" cy="211.4" r="2.65"/><circle cx="284.9" cy="210.2" r="2.65"/><circle cx="229.2" cy="213.5" r="2.65"/><circle cx="282.2" cy="213.1" r="2.65"/><circle cx="285.0" cy="213.5" r="2.65"/><circle cx="231.3" cy="215.0" r="2.65"/><circle cx="280.5" cy="215.5" r="2.65"/><circle cx="279.6" cy="218.3" r="2.65"/><circle cx="283.2" cy="217.7" r="2.65"/><circle cx="236.5" cy="219.4" r="2.65"/><circle cx="239.3" cy="222.0" r="2.65"/><circle cx="275.7" cy="220.7" r="2.65"/><circle cx="237.7" cy="222.8" r="2.65"/><circle cx="239.9" cy="223.1" r="2.65"/><circle cx="276.9" cy="222.8" r="2.65"/><circle cx="272.6" cy="226.3" r="2.65"/><circle cx="273.2" cy="225.0" r="2.65"/><circle cx="276.6" cy="225.2" r="2.65"/><circle cx="278.5" cy="224.4" r="2.65"/><circle cx="271.2" cy="227.8" r="2.65"/><circle cx="272.6" cy="228.3" r="2.65"/><circle cx="270.8" cy="230.0" r="2.65"/><circle cx="269.6" cy="232.5" r="2.65"/><circle cx="273.9" cy="232.3" r="2.65"/><circle cx="269.1" cy="234.8" r="2.65"/></g><g fill="#00ff00"><circle cx="224.3" cy="81.4" r="2.65"/><circle cx="220.3" cy="86.1" r="2.65"/><circle cx="222.4" cy="85.5" r="2.65"/><circle cx="225.8" cy="85.8" r="2.65"/><circle cx="220.8" cy="87.1" r="2.65"/><circle cx="224.0" cy="88.1" r="2.65"/><circle cx="226.1" cy="87.8" r="2.65"/><circle cx="230.4" cy="86.7" r="2.65"/><circle cx="233.0" cy="88.2" r="2.65"/><circle cx="219.1" cy="91.1" r="2.65"/><circle cx="222.5" cy="89.3" r="2.65"/><circle cx="226.4" cy="90.1" r="2.65"/><circle cx="229.1" cy="88.5" r="2.65"/><circle cx="214.9" cy="92.2" r="2.65"/><circle cx="218.3" cy="91.4" r="2.65"/><circle cx="221.6" cy="91.5" r="2.65"/><circle cx="230.0" cy="92.2" r="2.65"/><circle cx="235.8" cy="91.4" r="2.65"/><circle cx="239.8" cy="92.0" r="2.65"/><circle cx="215.6" cy="94.5" r="2.65"/><circle cx="218.3" cy="93.7" r="2.65"/><circle cx="220.0" cy="95.7" r="2.65"/><circle cx="227.0" cy="94.1" r="2.65"/><circle cx="229.1" cy="95.2" r="2.65"/><circle cx="231.8" cy="94.1" r="2.65"/><circle cx="234.0" cy="95.1" r="2.65"/><circle cx="237.3" cy="93.1" r="2.65"/><circle cx="209.5" cy="96.8" r="2.65"/><circle cx="213.7" cy="97.1" r="2.65"/><circle cx="215.1" cy="96.8" r="2.65"/><circle cx="219.3" cy="98.0" r="2.65"/><circle cx="221.4" cy="95.6" r="2.65"/><circle cx="232.4" cy="96.7" r="2.65"/><circle cx="236.0" cy="96.8" r="2.65"/><circle cx="215.4" cy="99.0" r="2.65"/><circle cx="221.3" cy="97.9" r="2.65"/><circle cx="222.3" cy="99.6" r="2.65"/><circle cx="232.7" cy="97.9" r="2.65"/><circle cx="214.7" cy="100.8" r="2.65"/><circle cx="215.2" cy="100.3" r="2.65"/><circle cx="219.5" cy="100.8" r="2.65"/><circle cx="212.0" cy="103.9" r="2.65"/><circle cx="215.1" cy="104.1" r="2.65"/><circle cx="216.8" cy="104.2" r="2.65"/><circle cx="216.8" cy="107.1" r="2.65"/><circle cx="218.2" cy="107.3" r="2.65"/><circle cx="238.0" cy="89.0" r="2.65"/><circle cx="241.0" cy="91.5" r="2.65"/><circle cx="244.5" cy="89.0" r="2.65"/><circle cx="246.0" cy="92.5" r="2.65"/><circle cx="240.0" cy="86.0" r="2.65"/><circle cx="243.0" cy="94.5" r="2.65"/><circle cx="274.1" cy="67.3" r="2.65"/><circle cx="278.5" cy="67.9" r="2.65"/><circle cx="270.9" cy="72.4" r="2.65"/><circle cx="276.0" cy="73.6" r="2.65"/><circle cx="276.0" cy="81.3" r="2.65"/><circle cx="269.6" cy="85.7" r="2.65"/><circle cx="289.4" cy="79.4" r="2.65"/><circle cx="288.1" cy="81.9" r="2.65"/><circle cx="296.1" cy="78.5" r="2.65"/><circle cx="221.9" cy="81.1" r="2.65"/><circle cx="225.7" cy="82.4" r="2.65"/><circle cx="235.3" cy="78.5" r="2.65"/><circle cx="243.5" cy="77.9" r="2.65"/><circle cx="241.9" cy="57.0" r="2.65"/><circle cx="243.8" cy="61.5" r="2.65"/><circle cx="241.9" cy="66.5" r="2.65"/><circle cx="236.0" cy="70.0" r="2.65"/><circle cx="247.6" cy="67.3" r="2.65"/><circle cx="235.5" cy="78.5" r="2.65"/><circle cx="243.2" cy="77.4" r="2.65"/><circle cx="245.1" cy="84.4" r="2.65"/><circle cx="257.8" cy="69.1" r="2.65"/><circle cx="197.8" cy="87.6" r="2.65"/><circle cx="199.6" cy="94.0" r="2.65"/><circle cx="209.5" cy="94.5" r="2.65"/><circle cx="215.5" cy="92.7" r="2.65"/><circle cx="185.1" cy="108.6" r="2.65"/><circle cx="199.1" cy="95.5" r="2.65"/><circle cx="206.0" cy="109.5" r="2.65"/><circle cx="209.1" cy="119.5" r="2.65"/><circle cx="218.2" cy="120.5" r="2.65"/><circle cx="224.5" cy="120.5" r="2.65"/><circle cx="237.0" cy="130.3" r="2.65"/><circle cx="228.1" cy="129.6" r="2.65"/><circle cx="224.0" cy="139.8" r="2.65"/><circle cx="289.0" cy="79.3" r="2.65"/><circle cx="288.0" cy="84.0" r="2.65"/><circle cx="326.0" cy="79.0" r="2.65"/><circle cx="317.8" cy="161.0" r="2.65"/><circle cx="323.1" cy="159.5" r="2.65"/><circle cx="319.1" cy="188.1" r="2.65"/><circle cx="331.3" cy="189.5" r="2.65"/><circle cx="326.9" cy="199.0" r="2.65"/><circle cx="327.3" cy="200.0" r="2.65"/><circle cx="296.4" cy="232.7" r="2.65"/><circle cx="290.4" cy="278.0" r="2.65"/><circle cx="302.7" cy="207.6" r="2.65"/><circle cx="288.2" cy="208.2" r="2.65"/><circle cx="292.7" cy="205.5" r="2.65"/><circle cx="298.2" cy="209.1" r="2.65"/><circle cx="305.1" cy="214.2" r="2.65"/><circle cx="298.6" cy="181.5" r="2.65"/><circle cx="298.0" cy="184.7" r="2.65"/><circle cx="294.8" cy="197.5" r="2.65"/><circle cx="299.9" cy="198.7" r="2.65"/><circle cx="292.3" cy="195.5" r="2.65"/><circle cx="293.5" cy="205.7" r="2.65"/><circle cx="303.1" cy="207.6" r="2.65"/><circle cx="291.0" cy="188.5" r="2.65"/><circle cx="291.6" cy="198.0" r="2.65"/><circle cx="295.5" cy="173.3" r="2.65"/><circle cx="294.0" cy="201.5" r="2.65"/><circle cx="296.5" cy="204.0" r="2.65"/><circle cx="301.3" cy="143.3" r="2.65"/></g><g fill="#0072bd"><circle cx="286.2" cy="78.5" r="2.65"/><circle cx="268.4" cy="82.3" r="2.65"/><circle cx="271.5" cy="81.9" r="2.65"/><circle cx="263.9" cy="67.9" r="2.65"/><circle cx="248.0" cy="94.5" r="2.65"/><circle cx="245.5" cy="100.8" r="2.65"/><circle cx="221.3" cy="106.5" r="2.65"/><circle cx="249.2" cy="60.8" r="2.65"/><circle cx="253.7" cy="62.7" r="2.65"/><circle cx="250.8" cy="64.0" r="2.65"/><circle cx="246.6" cy="67.2" r="2.65"/><circle cx="248.3" cy="73.5" r="2.65"/><circle cx="264.2" cy="67.8" r="2.65"/><circle cx="279.2" cy="57.0" r="2.65"/><circle cx="277.9" cy="62.1" r="2.65"/><circle cx="236.4" cy="84.0" r="2.65"/><circle cx="285.8" cy="78.6" r="2.65"/><circle cx="268.6" cy="81.8" r="2.65"/><circle cx="326.0" cy="75.1" r="2.65"/><circle cx="324.2" cy="77.8" r="2.65"/><circle cx="329.6" cy="87.6" r="2.65"/><circle cx="221.5" cy="107.2" r="2.65"/><circle cx="133.5" cy="153.5" r="2.65"/><circle cx="384.4" cy="201.3" r="2.65"/><circle cx="208.7" cy="196.4" r="2.65"/><circle cx="329.0" cy="130.4" r="2.65"/><circle cx="309.1" cy="138.2" r="2.65"/><circle cx="297.4" cy="175.2" r="2.65"/><circle cx="299.9" cy="191.1" r="2.65"/><circle cx="286.5" cy="185.4" r="2.65"/><circle cx="302.5" cy="211.5" r="2.65"/><circle cx="274.9" cy="221.5" r="2.65"/><circle cx="284.5" cy="222.7" r="2.65"/><circle cx="279.6" cy="226.0" r="2.65"/><circle cx="274.9" cy="246.7" r="2.65"/><circle cx="309.1" cy="230.9" r="2.65"/><circle cx="308.2" cy="233.6" r="2.65"/><circle cx="311.8" cy="234.5" r="2.65"/><circle cx="311.8" cy="244.2" r="2.65"/><circle cx="310.0" cy="232.5" r="2.65"/></g><g fill="#a2142f"><circle cx="232.7" cy="164.0" r="2.65"/><circle cx="321.0" cy="94.6" r="2.65"/><circle cx="325.0" cy="93.2" r="2.65"/><circle cx="329.3" cy="104.5" r="2.65"/><circle cx="317.3" cy="89.8" r="2.65"/><circle cx="204.5" cy="90.5" r="2.65"/><circle cx="204.5" cy="98.6" r="2.65"/><circle cx="281.4" cy="62.7" r="2.65"/><circle cx="316.4" cy="78.7" r="2.65"/><circle cx="320.0" cy="78.7" r="2.65"/><circle cx="299.8" cy="77.4" r="2.65"/><circle cx="304.9" cy="82.5" r="2.65"/><circle cx="353.6" cy="91.5" r="2.65"/><circle cx="312.2" cy="88.2" r="2.65"/><circle cx="213.1" cy="108.1" r="2.65"/><circle cx="174.5" cy="117.2" r="2.65"/><circle cx="212.2" cy="133.5" r="2.65"/><circle cx="198.2" cy="137.3" r="2.65"/><circle cx="178.2" cy="144.5" r="2.65"/><circle cx="221.7" cy="136.0" r="2.65"/><circle cx="223.6" cy="143.6" r="2.65"/><circle cx="230.0" cy="146.8" r="2.65"/><circle cx="219.2" cy="148.7" r="2.65"/><circle cx="223.6" cy="151.9" r="2.65"/><circle cx="205.2" cy="153.8" r="2.65"/><circle cx="219.2" cy="155.1" r="2.65"/><circle cx="231.9" cy="155.7" r="2.65"/><circle cx="168.7" cy="163.1" r="2.65"/><circle cx="176.7" cy="160.5" r="2.65"/><circle cx="199.1" cy="183.1" r="2.65"/><circle cx="212.7" cy="175.5" r="2.65"/><circle cx="220.9" cy="167.3" r="2.65"/><circle cx="220.9" cy="159.1" r="2.65"/><circle cx="214.5" cy="190.9" r="2.65"/><circle cx="218.2" cy="189.1" r="2.65"/><circle cx="214.5" cy="203.6" r="2.65"/><circle cx="218.2" cy="200.0" r="2.65"/><circle cx="214.5" cy="204.0" r="2.65"/><circle cx="220.4" cy="213.1" r="2.65"/><circle cx="221.8" cy="206.4" r="2.65"/><circle cx="235.5" cy="223.1" r="2.65"/><circle cx="234.5" cy="231.8" r="2.65"/><circle cx="243.6" cy="228.2" r="2.65"/><circle cx="256.0" cy="237.3" r="2.65"/><circle cx="278.2" cy="247.3" r="2.65"/><circle cx="290.9" cy="202.7" r="2.65"/><circle cx="291.3" cy="208.2" r="2.65"/><circle cx="286.9" cy="213.1" r="2.65"/><circle cx="292.4" cy="213.1" r="2.65"/><circle cx="299.1" cy="211.3" r="2.65"/><circle cx="295.5" cy="219.1" r="2.65"/><circle cx="279.6" cy="219.6" r="2.65"/><circle cx="276.4" cy="230.0" r="2.65"/><circle cx="274.0" cy="232.0" r="2.65"/><circle cx="304.0" cy="145.9" r="2.65"/><circle cx="324.5" cy="145.9" r="2.65"/><circle cx="342.7" cy="151.9" r="2.65"/><circle cx="302.7" cy="157.4" r="2.65"/><circle cx="308.7" cy="160.5" r="2.65"/><circle cx="310.0" cy="167.7" r="2.65"/><circle cx="307.6" cy="171.4" r="2.65"/><circle cx="300.0" cy="174.1" r="2.65"/><circle cx="305.5" cy="179.2" r="2.65"/><circle cx="302.7" cy="183.2" r="2.65"/><circle cx="327.3" cy="137.6" r="2.65"/><circle cx="324.5" cy="145.5" r="2.65"/><circle cx="304.5" cy="145.5" r="2.65"/></g><g fill="#ff00ff"><circle cx="260.9" cy="90.9" r="2.65"/><circle cx="252.9" cy="92.3" r="2.65"/><circle cx="258.2" cy="92.5" r="2.65"/><circle cx="275.4" cy="92.0" r="2.65"/><circle cx="290.1" cy="93.3" r="2.65"/><circle cx="303.8" cy="90.8" r="2.65"/><circle cx="308.7" cy="92.9" r="2.65"/><circle cx="313.2" cy="91.6" r="2.65"/><circle cx="255.2" cy="94.1" r="2.65"/><circle cx="257.4" cy="95.6" r="2.65"/><circle cx="259.9" cy="94.0" r="2.65"/><circle cx="262.9" cy="93.6" r="2.65"/><circle cx="270.4" cy="93.7" r="2.65"/><circle cx="277.0" cy="93.5" r="2.65"/><circle cx="286.0" cy="94.3" r="2.65"/><circle cx="288.9" cy="95.7" r="2.65"/><circle cx="291.2" cy="94.2" r="2.65"/><circle cx="295.1" cy="93.1" r="2.65"/><circle cx="301.2" cy="93.6" r="2.65"/><circle cx="303.4" cy="93.2" r="2.65"/><circle cx="307.0" cy="94.1" r="2.65"/><circle cx="309.7" cy="93.9" r="2.65"/><circle cx="246.7" cy="97.6" r="2.65"/><circle cx="249.4" cy="96.2" r="2.65"/><circle cx="258.2" cy="97.2" r="2.65"/><circle cx="263.4" cy="97.8" r="2.65"/><circle cx="268.8" cy="97.1" r="2.65"/><circle cx="273.6" cy="97.5" r="2.65"/><circle cx="278.3" cy="96.5" r="2.65"/><circle cx="286.9" cy="96.8" r="2.65"/><circle cx="292.3" cy="98.0" r="2.65"/><circle cx="295.7" cy="97.9" r="2.65"/><circle cx="300.6" cy="96.3" r="2.65"/><circle cx="302.7" cy="96.7" r="2.65"/><circle cx="306.3" cy="96.9" r="2.65"/><circle cx="308.7" cy="96.1" r="2.65"/><circle cx="310.9" cy="96.1" r="2.65"/><circle cx="270.1" cy="99.9" r="2.65"/><circle cx="272.0" cy="99.8" r="2.65"/><circle cx="287.1" cy="99.4" r="2.65"/><circle cx="290.2" cy="100.4" r="2.65"/><circle cx="250.6" cy="101.1" r="2.65"/><circle cx="259.6" cy="100.3" r="2.65"/><circle cx="265.8" cy="100.3" r="2.65"/><circle cx="266.2" cy="102.0" r="2.65"/><circle cx="269.6" cy="101.9" r="2.65"/><circle cx="272.4" cy="101.4" r="2.65"/><circle cx="277.6" cy="100.9" r="2.65"/><circle cx="286.3" cy="101.5" r="2.65"/><circle cx="290.1" cy="102.1" r="2.65"/><circle cx="292.2" cy="102.0" r="2.65"/><circle cx="300.7" cy="102.5" r="2.65"/><circle cx="301.3" cy="100.9" r="2.65"/><circle cx="306.1" cy="101.8" r="2.65"/><circle cx="242.2" cy="105.0" r="2.65"/><circle cx="249.9" cy="105.0" r="2.65"/><circle cx="268.9" cy="102.6" r="2.65"/><circle cx="272.9" cy="103.4" r="2.65"/><circle cx="280.4" cy="104.0" r="2.65"/><circle cx="281.5" cy="104.4" r="2.65"/><circle cx="286.0" cy="102.5" r="2.65"/><circle cx="287.7" cy="104.7" r="2.65"/><circle cx="291.9" cy="104.7" r="2.65"/><circle cx="294.9" cy="102.5" r="2.65"/><circle cx="299.6" cy="103.5" r="2.65"/><circle cx="300.0" cy="104.7" r="2.65"/><circle cx="305.1" cy="102.5" r="2.65"/><circle cx="306.1" cy="102.9" r="2.65"/><circle cx="308.5" cy="104.2" r="2.65"/><circle cx="317.1" cy="103.7" r="2.65"/><circle cx="245.5" cy="104.8" r="2.65"/><circle cx="252.6" cy="106.5" r="2.65"/><circle cx="259.2" cy="105.6" r="2.65"/><circle cx="261.6" cy="106.8" r="2.65"/><circle cx="269.3" cy="104.9" r="2.65"/><circle cx="276.1" cy="107.4" r="2.65"/><circle cx="281.9" cy="106.6" r="2.65"/><circle cx="284.7" cy="105.8" r="2.65"/><circle cx="286.8" cy="104.8" r="2.65"/><circle cx="287.8" cy="105.2" r="2.65"/><circle cx="295.4" cy="105.7" r="2.65"/><circle cx="297.7" cy="106.7" r="2.65"/><circle cx="300.0" cy="106.3" r="2.65"/><circle cx="303.1" cy="107.4" r="2.65"/><circle cx="306.0" cy="106.5" r="2.65"/><circle cx="306.7" cy="106.1" r="2.65"/><circle cx="250.9" cy="107.8" r="2.65"/><circle cx="258.6" cy="109.1" r="2.65"/><circle cx="259.7" cy="107.4" r="2.65"/><circle cx="265.8" cy="108.1" r="2.65"/><circle cx="270.1" cy="108.7" r="2.65"/><circle cx="279.3" cy="108.2" r="2.65"/><circle cx="282.7" cy="108.1" r="2.65"/><circle cx="289.8" cy="108.0" r="2.65"/><circle cx="295.5" cy="107.4" r="2.65"/><circle cx="298.9" cy="109.5" r="2.65"/><circle cx="300.6" cy="109.2" r="2.65"/><circle cx="305.0" cy="108.1" r="2.65"/><circle cx="305.8" cy="107.9" r="2.65"/><circle cx="308.8" cy="109.1" r="2.65"/><circle cx="312.4" cy="109.3" r="2.65"/><circle cx="313.9" cy="107.4" r="2.65"/><circle cx="318.2" cy="108.7" r="2.65"/><circle cx="245.7" cy="110.8" r="2.65"/><circle cx="250.2" cy="109.8" r="2.65"/><circle cx="254.1" cy="111.0" r="2.65"/><circle cx="258.0" cy="111.7" r="2.65"/><circle cx="266.0" cy="110.0" r="2.65"/><circle cx="271.3" cy="110.7" r="2.65"/><circle cx="283.2" cy="111.0" r="2.65"/><circle cx="285.2" cy="110.5" r="2.65"/><circle cx="287.8" cy="109.7" r="2.65"/><circle cx="293.0" cy="111.7" r="2.65"/><circle cx="294.0" cy="110.4" r="2.65"/><circle cx="299.6" cy="109.9" r="2.65"/><circle cx="301.3" cy="111.5" r="2.65"/><circle cx="305.9" cy="111.6" r="2.65"/><circle cx="307.2" cy="110.3" r="2.65"/><circle cx="220.0" cy="113.3" r="2.65"/><circle cx="225.3" cy="112.5" r="2.65"/><circle cx="227.8" cy="112.6" r="2.65"/><circle cx="229.8" cy="113.1" r="2.65"/><circle cx="250.0" cy="113.3" r="2.65"/><circle cx="253.5" cy="114.1" r="2.65"/><circle cx="259.2" cy="111.9" r="2.65"/><circle cx="260.4" cy="114.3" r="2.65"/><circle cx="266.1" cy="113.8" r="2.65"/><circle cx="269.9" cy="111.8" r="2.65"/><circle cx="287.1" cy="113.6" r="2.65"/><circle cx="305.3" cy="112.6" r="2.65"/><circle cx="310.3" cy="111.9" r="2.65"/><circle cx="229.8" cy="114.4" r="2.65"/><circle cx="238.9" cy="115.9" r="2.65"/><circle cx="244.7" cy="115.9" r="2.65"/><circle cx="271.3" cy="115.2" r="2.65"/><circle cx="285.6" cy="115.6" r="2.65"/><circle cx="293.9" cy="115.6" r="2.65"/><circle cx="303.6" cy="116.1" r="2.65"/><circle cx="309.3" cy="116.2" r="2.65"/><circle cx="240.7" cy="116.9" r="2.65"/><circle cx="246.7" cy="117.1" r="2.65"/><circle cx="266.8" cy="117.1" r="2.65"/><circle cx="284.0" cy="117.9" r="2.65"/><circle cx="291.3" cy="117.1" r="2.65"/><circle cx="293.9" cy="116.5" r="2.65"/><circle cx="299.1" cy="117.1" r="2.65"/><circle cx="302.8" cy="118.3" r="2.65"/><circle cx="315.9" cy="117.0" r="2.65"/><circle cx="244.7" cy="119.1" r="2.65"/><circle cx="269.4" cy="118.8" r="2.65"/><circle cx="280.4" cy="120.4" r="2.65"/><circle cx="290.3" cy="120.4" r="2.65"/><circle cx="292.2" cy="119.6" r="2.65"/><circle cx="293.3" cy="120.4" r="2.65"/><circle cx="296.1" cy="120.9" r="2.65"/><circle cx="300.6" cy="119.5" r="2.65"/><circle cx="308.3" cy="120.4" r="2.65"/><circle cx="310.4" cy="120.3" r="2.65"/><circle cx="262.6" cy="123.1" r="2.65"/><circle cx="266.2" cy="123.8" r="2.65"/><circle cx="283.1" cy="122.8" r="2.65"/><circle cx="286.3" cy="122.8" r="2.65"/><circle cx="287.9" cy="123.5" r="2.65"/><circle cx="290.8" cy="122.5" r="2.65"/><circle cx="292.2" cy="121.8" r="2.65"/><circle cx="295.6" cy="122.8" r="2.65"/><circle cx="304.1" cy="122.0" r="2.65"/><circle cx="308.7" cy="123.5" r="2.65"/><circle cx="319.0" cy="123.8" r="2.65"/><circle cx="327.0" cy="121.6" r="2.65"/><circle cx="234.0" cy="125.2" r="2.65"/><circle cx="255.8" cy="125.0" r="2.65"/><circle cx="264.8" cy="124.6" r="2.65"/><circle cx="272.6" cy="125.6" r="2.65"/><circle cx="291.7" cy="125.5" r="2.65"/><circle cx="294.8" cy="123.8" r="2.65"/><circle cx="301.2" cy="124.5" r="2.65"/><circle cx="303.2" cy="125.3" r="2.65"/><circle cx="306.0" cy="123.7" r="2.65"/><circle cx="308.8" cy="125.5" r="2.65"/><circle cx="313.5" cy="124.0" r="2.65"/><circle cx="249.1" cy="127.2" r="2.65"/><circle cx="252.3" cy="127.1" r="2.65"/><circle cx="254.8" cy="127.6" r="2.65"/><circle cx="282.0" cy="127.4" r="2.65"/><circle cx="284.4" cy="126.1" r="2.65"/><circle cx="291.5" cy="127.5" r="2.65"/><circle cx="292.6" cy="128.2" r="2.65"/><circle cx="300.3" cy="126.9" r="2.65"/><circle cx="303.5" cy="126.8" r="2.65"/><circle cx="309.0" cy="127.7" r="2.65"/><circle cx="317.2" cy="127.4" r="2.65"/><circle cx="240.6" cy="129.2" r="2.65"/><circle cx="254.6" cy="129.8" r="2.65"/><circle cx="259.9" cy="128.3" r="2.65"/><circle cx="261.1" cy="130.2" r="2.65"/><circle cx="266.9" cy="129.2" r="2.65"/><circle cx="275.7" cy="130.0" r="2.65"/><circle cx="289.7" cy="128.6" r="2.65"/><circle cx="296.9" cy="130.2" r="2.65"/><circle cx="310.7" cy="129.3" r="2.65"/><circle cx="233.0" cy="132.5" r="2.65"/><circle cx="242.6" cy="131.2" r="2.65"/><circle cx="258.3" cy="133.0" r="2.65"/><circle cx="261.8" cy="132.9" r="2.65"/><circle cx="271.4" cy="131.1" r="2.65"/><circle cx="284.5" cy="132.7" r="2.65"/><circle cx="286.4" cy="131.7" r="2.65"/><circle cx="295.9" cy="131.3" r="2.65"/><circle cx="324.5" cy="132.8" r="2.65"/><circle cx="258.9" cy="134.7" r="2.65"/><circle cx="263.0" cy="134.0" r="2.65"/><circle cx="264.2" cy="134.5" r="2.65"/><circle cx="276.0" cy="133.2" r="2.65"/><circle cx="278.6" cy="133.5" r="2.65"/><circle cx="284.7" cy="133.4" r="2.65"/><circle cx="286.7" cy="134.5" r="2.65"/><circle cx="289.2" cy="133.5" r="2.65"/><circle cx="302.1" cy="133.0" r="2.65"/><circle cx="260.2" cy="135.4" r="2.65"/><circle cx="277.7" cy="137.2" r="2.65"/><circle cx="279.6" cy="137.7" r="2.65"/><circle cx="284.1" cy="135.7" r="2.65"/><circle cx="293.8" cy="135.4" r="2.65"/><circle cx="247.7" cy="139.8" r="2.65"/><circle cx="259.8" cy="138.1" r="2.65"/><circle cx="266.1" cy="139.7" r="2.65"/><circle cx="268.8" cy="139.2" r="2.65"/><circle cx="273.5" cy="139.3" r="2.65"/><circle cx="282.1" cy="139.8" r="2.65"/><circle cx="284.7" cy="138.0" r="2.65"/><circle cx="285.9" cy="137.6" r="2.65"/><circle cx="291.7" cy="137.7" r="2.65"/><circle cx="295.2" cy="138.3" r="2.65"/><circle cx="297.0" cy="139.1" r="2.65"/><circle cx="233.6" cy="140.3" r="2.65"/><circle cx="246.7" cy="141.9" r="2.65"/><circle cx="258.4" cy="141.1" r="2.65"/><circle cx="260.9" cy="142.2" r="2.65"/><circle cx="262.7" cy="141.5" r="2.65"/><circle cx="272.6" cy="142.1" r="2.65"/><circle cx="277.3" cy="141.5" r="2.65"/><circle cx="278.5" cy="140.7" r="2.65"/><circle cx="286.2" cy="139.8" r="2.65"/><circle cx="290.4" cy="142.0" r="2.65"/><circle cx="255.0" cy="144.4" r="2.65"/><circle cx="265.1" cy="142.6" r="2.65"/><circle cx="266.7" cy="144.4" r="2.65"/><circle cx="269.2" cy="144.1" r="2.65"/><circle cx="274.9" cy="144.5" r="2.65"/><circle cx="283.2" cy="143.8" r="2.65"/><circle cx="289.9" cy="142.3" r="2.65"/><circle cx="291.1" cy="144.4" r="2.65"/><circle cx="261.9" cy="145.7" r="2.65"/><circle cx="264.1" cy="146.0" r="2.65"/><circle cx="267.3" cy="145.1" r="2.65"/><circle cx="269.0" cy="147.0" r="2.65"/><circle cx="280.5" cy="146.0" r="2.65"/><circle cx="243.0" cy="149.1" r="2.65"/><circle cx="253.9" cy="148.1" r="2.65"/><circle cx="260.0" cy="148.1" r="2.65"/><circle cx="263.3" cy="147.2" r="2.65"/><circle cx="264.6" cy="148.0" r="2.65"/><circle cx="268.5" cy="147.7" r="2.65"/><circle cx="270.5" cy="147.2" r="2.65"/><circle cx="276.6" cy="149.4" r="2.65"/><circle cx="278.2" cy="148.7" r="2.65"/><circle cx="251.2" cy="150.9" r="2.65"/><circle cx="260.9" cy="150.7" r="2.65"/><circle cx="265.8" cy="150.4" r="2.65"/><circle cx="268.7" cy="149.9" r="2.65"/><circle cx="273.2" cy="151.6" r="2.65"/><circle cx="276.3" cy="150.7" r="2.65"/><circle cx="280.3" cy="150.0" r="2.65"/><circle cx="281.1" cy="149.3" r="2.65"/><circle cx="259.2" cy="153.6" r="2.65"/><circle cx="261.8" cy="151.8" r="2.65"/><circle cx="267.2" cy="153.9" r="2.65"/><circle cx="275.2" cy="151.6" r="2.65"/><circle cx="280.3" cy="153.6" r="2.65"/><circle cx="253.1" cy="155.0" r="2.65"/><circle cx="258.8" cy="156.4" r="2.65"/><circle cx="260.0" cy="154.9" r="2.65"/><circle cx="262.7" cy="155.9" r="2.65"/><circle cx="266.3" cy="154.2" r="2.65"/><circle cx="235.9" cy="156.7" r="2.65"/><circle cx="258.6" cy="158.4" r="2.65"/><circle cx="265.3" cy="158.1" r="2.65"/><circle cx="268.0" cy="156.7" r="2.65"/><circle cx="271.0" cy="156.6" r="2.65"/><circle cx="271.9" cy="157.8" r="2.65"/><circle cx="278.3" cy="156.3" r="2.65"/><circle cx="279.9" cy="157.9" r="2.65"/><circle cx="255.8" cy="158.8" r="2.65"/><circle cx="258.0" cy="160.0" r="2.65"/><circle cx="264.7" cy="160.2" r="2.65"/><circle cx="266.2" cy="159.3" r="2.65"/><circle cx="267.7" cy="160.4" r="2.65"/><circle cx="274.4" cy="160.4" r="2.65"/><circle cx="278.6" cy="159.7" r="2.65"/><circle cx="281.6" cy="160.7" r="2.65"/><circle cx="289.2" cy="160.1" r="2.65"/><circle cx="236.4" cy="162.1" r="2.65"/><circle cx="252.0" cy="162.6" r="2.65"/><circle cx="260.4" cy="161.3" r="2.65"/><circle cx="260.9" cy="162.8" r="2.65"/><circle cx="265.3" cy="161.3" r="2.65"/><circle cx="266.9" cy="162.1" r="2.65"/><circle cx="282.3" cy="162.2" r="2.65"/><circle cx="252.1" cy="164.6" r="2.65"/><circle cx="255.0" cy="163.5" r="2.65"/><circle cx="258.1" cy="165.7" r="2.65"/><circle cx="261.8" cy="164.4" r="2.65"/><circle cx="264.4" cy="163.5" r="2.65"/><circle cx="265.0" cy="165.4" r="2.65"/><circle cx="272.1" cy="164.7" r="2.65"/><circle cx="282.1" cy="164.2" r="2.65"/><circle cx="287.8" cy="165.0" r="2.65"/><circle cx="246.7" cy="166.9" r="2.65"/><circle cx="249.3" cy="167.2" r="2.65"/><circle cx="251.2" cy="166.1" r="2.65"/><circle cx="255.3" cy="166.1" r="2.65"/><circle cx="256.9" cy="167.3" r="2.65"/><circle cx="259.1" cy="166.9" r="2.65"/><circle cx="260.9" cy="168.0" r="2.65"/><circle cx="265.9" cy="166.6" r="2.65"/><circle cx="266.2" cy="166.2" r="2.65"/><circle cx="269.7" cy="167.0" r="2.65"/><circle cx="273.1" cy="167.4" r="2.65"/><circle cx="274.9" cy="168.2" r="2.65"/><circle cx="277.0" cy="166.7" r="2.65"/><circle cx="280.2" cy="166.7" r="2.65"/><circle cx="245.0" cy="168.5" r="2.65"/><circle cx="246.7" cy="170.0" r="2.65"/><circle cx="248.8" cy="170.3" r="2.65"/><circle cx="251.8" cy="169.8" r="2.65"/><circle cx="255.6" cy="169.1" r="2.65"/><circle cx="259.3" cy="169.8" r="2.65"/><circle cx="261.8" cy="169.6" r="2.65"/><circle cx="264.2" cy="168.4" r="2.65"/><circle cx="265.3" cy="170.1" r="2.65"/><circle cx="269.0" cy="169.7" r="2.65"/><circle cx="271.6" cy="169.1" r="2.65"/><circle cx="275.6" cy="168.2" r="2.65"/><circle cx="277.9" cy="168.0" r="2.65"/><circle cx="279.7" cy="168.5" r="2.65"/><circle cx="281.1" cy="169.7" r="2.65"/><circle cx="297.7" cy="169.2" r="2.65"/><circle cx="241.3" cy="172.7" r="2.65"/><circle cx="242.1" cy="170.7" r="2.65"/><circle cx="245.0" cy="171.2" r="2.65"/><circle cx="249.5" cy="171.3" r="2.65"/><circle cx="251.8" cy="172.9" r="2.65"/><circle cx="253.6" cy="170.9" r="2.65"/><circle cx="257.0" cy="172.2" r="2.65"/><circle cx="260.1" cy="171.9" r="2.65"/><circle cx="262.2" cy="171.3" r="2.65"/><circle cx="264.9" cy="172.0" r="2.65"/><circle cx="268.8" cy="172.0" r="2.65"/><circle cx="271.2" cy="171.4" r="2.65"/><circle cx="274.1" cy="170.5" r="2.65"/><circle cx="274.4" cy="172.1" r="2.65"/><circle cx="278.6" cy="171.1" r="2.65"/><circle cx="279.9" cy="170.8" r="2.65"/><circle cx="243.0" cy="172.6" r="2.65"/><circle cx="244.4" cy="174.3" r="2.65"/><circle cx="248.3" cy="174.8" r="2.65"/><circle cx="251.3" cy="172.7" r="2.65"/><circle cx="252.2" cy="172.6" r="2.65"/><circle cx="256.7" cy="175.2" r="2.65"/><circle cx="259.4" cy="174.6" r="2.65"/><circle cx="261.0" cy="173.1" r="2.65"/><circle cx="264.0" cy="173.1" r="2.65"/><circle cx="264.8" cy="173.4" r="2.65"/><circle cx="267.8" cy="172.8" r="2.65"/><circle cx="270.4" cy="175.1" r="2.65"/><circle cx="273.9" cy="172.7" r="2.65"/><circle cx="276.1" cy="172.8" r="2.65"/><circle cx="280.8" cy="175.1" r="2.65"/><circle cx="244.0" cy="176.9" r="2.65"/><circle cx="246.1" cy="175.1" r="2.65"/><circle cx="249.4" cy="175.5" r="2.65"/><circle cx="250.2" cy="176.7" r="2.65"/><circle cx="252.8" cy="176.6" r="2.65"/><circle cx="255.8" cy="177.4" r="2.65"/><circle cx="258.1" cy="175.1" r="2.65"/><circle cx="261.3" cy="177.2" r="2.65"/><circle cx="263.7" cy="177.1" r="2.65"/><circle cx="266.5" cy="174.9" r="2.65"/><circle cx="270.1" cy="176.3" r="2.65"/><circle cx="271.8" cy="174.9" r="2.65"/><circle cx="275.4" cy="176.9" r="2.65"/><circle cx="278.6" cy="176.9" r="2.65"/><circle cx="280.2" cy="176.3" r="2.65"/><circle cx="241.7" cy="177.6" r="2.65"/><circle cx="245.1" cy="177.5" r="2.65"/><circle cx="247.0" cy="177.8" r="2.65"/><circle cx="249.6" cy="178.2" r="2.65"/><circle cx="251.8" cy="179.8" r="2.65"/><circle cx="255.2" cy="178.8" r="2.65"/><circle cx="257.1" cy="179.6" r="2.65"/><circle cx="260.3" cy="179.6" r="2.65"/><circle cx="263.3" cy="179.4" r="2.65"/><circle cx="265.6" cy="179.9" r="2.65"/><circle cx="268.2" cy="178.6" r="2.65"/><circle cx="271.7" cy="178.5" r="2.65"/><circle cx="273.6" cy="178.4" r="2.65"/><circle cx="278.0" cy="177.9" r="2.65"/><circle cx="279.6" cy="178.0" r="2.65"/><circle cx="283.5" cy="177.9" r="2.65"/><circle cx="240.8" cy="179.9" r="2.65"/><circle cx="242.7" cy="181.4" r="2.65"/><circle cx="246.0" cy="180.0" r="2.65"/><circle cx="247.4" cy="182.3" r="2.65"/><circle cx="252.2" cy="180.3" r="2.65"/><circle cx="253.0" cy="180.6" r="2.65"/><circle cx="256.8" cy="180.5" r="2.65"/><circle cx="258.8" cy="181.7" r="2.65"/><circle cx="263.4" cy="181.9" r="2.65"/><circle cx="263.5" cy="181.8" r="2.65"/><circle cx="268.0" cy="180.9" r="2.65"/><circle cx="270.4" cy="179.6" r="2.65"/><circle cx="273.8" cy="179.7" r="2.65"/><circle cx="276.5" cy="180.1" r="2.65"/><circle cx="279.1" cy="182.3" r="2.65"/><circle cx="280.2" cy="179.9" r="2.65"/><circle cx="282.7" cy="180.5" r="2.65"/><circle cx="239.2" cy="184.1" r="2.65"/><circle cx="240.6" cy="184.4" r="2.65"/><circle cx="245.2" cy="184.3" r="2.65"/><circle cx="246.4" cy="184.0" r="2.65"/><circle cx="250.0" cy="181.9" r="2.65"/><circle cx="252.5" cy="182.5" r="2.65"/><circle cx="256.5" cy="184.4" r="2.65"/><circle cx="257.6" cy="182.8" r="2.65"/><circle cx="260.4" cy="184.5" r="2.65"/><circle cx="263.1" cy="183.4" r="2.65"/><circle cx="265.7" cy="183.9" r="2.65"/><circle cx="267.9" cy="184.4" r="2.65"/><circle cx="272.1" cy="184.4" r="2.65"/><circle cx="274.9" cy="184.0" r="2.65"/><circle cx="278.1" cy="182.3" r="2.65"/><circle cx="280.9" cy="183.3" r="2.65"/><circle cx="282.1" cy="183.7" r="2.65"/><circle cx="237.8" cy="186.2" r="2.65"/><circle cx="241.4" cy="185.9" r="2.65"/><circle cx="243.0" cy="184.9" r="2.65"/><circle cx="244.7" cy="185.3" r="2.65"/><circle cx="248.9" cy="184.5" r="2.65"/><circle cx="250.3" cy="185.0" r="2.65"/><circle cx="252.8" cy="187.0" r="2.65"/><circle cx="257.8" cy="186.1" r="2.65"/><circle cx="259.7" cy="185.7" r="2.65"/><circle cx="262.2" cy="185.2" r="2.65"/><circle cx="265.0" cy="186.4" r="2.65"/><circle cx="268.6" cy="185.9" r="2.65"/><circle cx="270.4" cy="184.7" r="2.65"/><circle cx="273.6" cy="185.3" r="2.65"/><circle cx="276.7" cy="185.4" r="2.65"/><circle cx="278.8" cy="185.4" r="2.65"/><circle cx="282.0" cy="184.8" r="2.65"/><circle cx="234.1" cy="188.1" r="2.65"/><circle cx="237.6" cy="188.7" r="2.65"/><circle cx="240.3" cy="188.1" r="2.65"/><circle cx="241.1" cy="187.5" r="2.65"/><circle cx="243.9" cy="187.3" r="2.65"/><circle cx="246.2" cy="188.1" r="2.65"/><circle cx="250.8" cy="188.6" r="2.65"/><circle cx="253.8" cy="186.9" r="2.65"/><circle cx="256.5" cy="186.8" r="2.65"/><circle cx="256.8" cy="187.1" r="2.65"/><circle cx="261.8" cy="187.0" r="2.65"/><circle cx="262.4" cy="188.9" r="2.65"/><circle cx="266.3" cy="187.6" r="2.65"/><circle cx="269.2" cy="189.1" r="2.65"/><circle cx="271.3" cy="188.5" r="2.65"/><circle cx="274.6" cy="187.4" r="2.65"/><circle cx="276.2" cy="188.1" r="2.65"/><circle cx="279.9" cy="188.2" r="2.65"/><circle cx="283.0" cy="189.2" r="2.65"/><circle cx="233.3" cy="190.7" r="2.65"/><circle cx="235.7" cy="191.4" r="2.65"/><circle cx="238.1" cy="190.6" r="2.65"/><circle cx="241.8" cy="190.7" r="2.65"/><circle cx="242.2" cy="190.3" r="2.65"/><circle cx="246.4" cy="190.3" r="2.65"/><circle cx="247.8" cy="191.0" r="2.65"/><circle cx="252.0" cy="189.5" r="2.65"/><circle cx="253.0" cy="189.4" r="2.65"/><circle cx="256.1" cy="191.5" r="2.65"/><circle cx="259.4" cy="189.2" r="2.65"/><circle cx="261.0" cy="191.3" r="2.65"/><circle cx="264.4" cy="189.2" r="2.65"/><circle cx="266.3" cy="190.7" r="2.65"/><circle cx="269.6" cy="190.7" r="2.65"/><circle cx="271.7" cy="191.4" r="2.65"/><circle cx="276.4" cy="191.4" r="2.65"/><circle cx="277.3" cy="190.1" r="2.65"/><circle cx="281.5" cy="189.2" r="2.65"/><circle cx="234.6" cy="191.6" r="2.65"/><circle cx="236.8" cy="193.4" r="2.65"/><circle cx="239.4" cy="191.6" r="2.65"/><circle cx="241.5" cy="192.2" r="2.65"/><circle cx="244.6" cy="191.6" r="2.65"/><circle cx="246.1" cy="193.2" r="2.65"/><circle cx="249.9" cy="191.3" r="2.65"/><circle cx="253.8" cy="193.3" r="2.65"/><circle cx="255.2" cy="193.3" r="2.65"/><circle cx="257.7" cy="192.6" r="2.65"/><circle cx="260.6" cy="192.2" r="2.65"/><circle cx="263.7" cy="192.5" r="2.65"/><circle cx="266.2" cy="191.9" r="2.65"/><circle cx="268.4" cy="193.2" r="2.65"/><circle cx="270.2" cy="192.2" r="2.65"/><circle cx="273.8" cy="193.4" r="2.65"/><circle cx="278.1" cy="193.3" r="2.65"/><circle cx="279.6" cy="191.5" r="2.65"/><circle cx="281.7" cy="193.4" r="2.65"/><circle cx="288.1" cy="192.2" r="2.65"/><circle cx="232.4" cy="194.7" r="2.65"/><circle cx="234.7" cy="194.6" r="2.65"/><circle cx="237.2" cy="194.3" r="2.65"/><circle cx="240.3" cy="194.9" r="2.65"/><circle cx="242.8" cy="195.3" r="2.65"/><circle cx="247.1" cy="195.2" r="2.65"/><circle cx="248.2" cy="194.1" r="2.65"/><circle cx="252.2" cy="193.9" r="2.65"/><circle cx="254.9" cy="193.8" r="2.65"/><circle cx="256.4" cy="194.2" r="2.65"/><circle cx="260.4" cy="194.2" r="2.65"/><circle cx="262.2" cy="193.8" r="2.65"/><circle cx="264.3" cy="194.5" r="2.65"/><circle cx="267.5" cy="195.1" r="2.65"/><circle cx="270.7" cy="195.0" r="2.65"/><circle cx="274.0" cy="196.0" r="2.65"/><circle cx="275.2" cy="195.3" r="2.65"/><circle cx="278.2" cy="194.3" r="2.65"/><circle cx="279.9" cy="195.3" r="2.65"/><circle cx="231.2" cy="197.9" r="2.65"/><circle cx="232.8" cy="196.3" r="2.65"/><circle cx="235.5" cy="198.1" r="2.65"/><circle cx="238.8" cy="196.2" r="2.65"/><circle cx="241.5" cy="196.7" r="2.65"/><circle cx="244.0" cy="197.9" r="2.65"/><circle cx="247.3" cy="197.7" r="2.65"/><circle cx="250.8" cy="198.0" r="2.65"/><circle cx="251.5" cy="196.2" r="2.65"/><circle cx="254.1" cy="197.6" r="2.65"/><circle cx="258.5" cy="197.2" r="2.65"/><circle cx="260.7" cy="198.0" r="2.65"/><circle cx="262.8" cy="197.3" r="2.65"/><circle cx="266.5" cy="197.0" r="2.65"/><circle cx="268.1" cy="198.4" r="2.65"/><circle cx="272.4" cy="196.2" r="2.65"/><circle cx="274.0" cy="198.4" r="2.65"/><circle cx="277.0" cy="198.1" r="2.65"/><circle cx="280.3" cy="198.7" r="2.65"/><circle cx="281.7" cy="196.8" r="2.65"/><circle cx="230.4" cy="198.6" r="2.65"/><circle cx="232.1" cy="199.5" r="2.65"/><circle cx="234.0" cy="200.8" r="2.65"/><circle cx="237.8" cy="200.3" r="2.65"/><circle cx="240.3" cy="200.2" r="2.65"/><circle cx="242.4" cy="199.3" r="2.65"/><circle cx="246.4" cy="199.8" r="2.65"/><circle cx="247.9" cy="199.3" r="2.65"/><circle cx="251.6" cy="199.0" r="2.65"/><circle cx="253.5" cy="200.9" r="2.65"/><circle cx="257.7" cy="199.4" r="2.65"/><circle cx="260.2" cy="198.8" r="2.65"/><circle cx="262.8" cy="200.6" r="2.65"/><circle cx="265.2" cy="198.4" r="2.65"/><circle cx="266.5" cy="198.5" r="2.65"/><circle cx="269.0" cy="199.6" r="2.65"/><circle cx="272.1" cy="200.5" r="2.65"/><circle cx="276.0" cy="200.0" r="2.65"/><circle cx="278.1" cy="200.7" r="2.65"/><circle cx="280.7" cy="199.0" r="2.65"/><circle cx="291.1" cy="200.3" r="2.65"/><circle cx="231.7" cy="201.7" r="2.65"/><circle cx="234.1" cy="202.8" r="2.65"/><circle cx="237.4" cy="203.0" r="2.65"/><circle cx="240.1" cy="201.3" r="2.65"/><circle cx="242.8" cy="202.9" r="2.65"/><circle cx="243.7" cy="202.1" r="2.65"/><circle cx="246.9" cy="203.2" r="2.65"/><circle cx="249.0" cy="201.1" r="2.65"/><circle cx="252.8" cy="200.7" r="2.65"/><circle cx="254.5" cy="200.9" r="2.65"/><circle cx="258.9" cy="200.9" r="2.65"/><circle cx="261.9" cy="203.3" r="2.65"/><circle cx="264.4" cy="203.2" r="2.65"/><circle cx="266.7" cy="202.9" r="2.65"/><circle cx="269.1" cy="202.9" r="2.65"/><circle cx="272.7" cy="203.1" r="2.65"/><circle cx="273.4" cy="201.6" r="2.65"/><circle cx="275.6" cy="201.4" r="2.65"/><circle cx="280.9" cy="202.0" r="2.65"/><circle cx="281.3" cy="202.1" r="2.65"/><circle cx="228.9" cy="203.1" r="2.65"/><circle cx="232.3" cy="204.1" r="2.65"/><circle cx="235.7" cy="203.1" r="2.65"/><circle cx="237.8" cy="203.6" r="2.65"/><circle cx="240.1" cy="204.2" r="2.65"/><circle cx="243.3" cy="203.6" r="2.65"/><circle cx="247.2" cy="205.2" r="2.65"/><circle cx="247.4" cy="205.5" r="2.65"/><circle cx="250.2" cy="204.1" r="2.65"/><circle cx="253.7" cy="205.1" r="2.65"/><circle cx="257.2" cy="205.4" r="2.65"/><circle cx="258.3" cy="204.8" r="2.65"/><circle cx="262.9" cy="205.4" r="2.65"/><circle cx="265.4" cy="203.1" r="2.65"/><circle cx="267.9" cy="205.5" r="2.65"/><circle cx="269.4" cy="205.0" r="2.65"/><circle cx="272.8" cy="205.6" r="2.65"/><circle cx="276.6" cy="203.3" r="2.65"/><circle cx="278.7" cy="203.1" r="2.65"/><circle cx="280.5" cy="205.1" r="2.65"/><circle cx="230.6" cy="206.4" r="2.65"/><circle cx="234.5" cy="207.8" r="2.65"/><circle cx="236.9" cy="207.6" r="2.65"/><circle cx="239.1" cy="205.4" r="2.65"/><circle cx="242.9" cy="205.7" r="2.65"/><circle cx="244.9" cy="206.7" r="2.65"/><circle cx="247.0" cy="206.2" r="2.65"/><circle cx="251.0" cy="205.5" r="2.65"/><circle cx="252.5" cy="206.4" r="2.65"/><circle cx="255.2" cy="205.6" r="2.65"/><circle cx="257.5" cy="207.7" r="2.65"/><circle cx="260.0" cy="205.8" r="2.65"/><circle cx="264.4" cy="207.7" r="2.65"/><circle cx="266.5" cy="206.3" r="2.65"/><circle cx="267.8" cy="207.7" r="2.65"/><circle cx="271.5" cy="205.6" r="2.65"/><circle cx="273.4" cy="208.0" r="2.65"/><circle cx="276.6" cy="205.5" r="2.65"/><circle cx="279.7" cy="205.5" r="2.65"/><circle cx="233.1" cy="208.3" r="2.65"/><circle cx="234.3" cy="208.4" r="2.65"/><circle cx="236.8" cy="208.1" r="2.65"/><circle cx="240.9" cy="209.9" r="2.65"/><circle cx="242.6" cy="209.2" r="2.65"/><circle cx="245.5" cy="208.0" r="2.65"/><circle cx="248.5" cy="210.2" r="2.65"/><circle cx="251.8" cy="208.3" r="2.65"/><circle cx="253.2" cy="208.8" r="2.65"/><circle cx="255.4" cy="209.1" r="2.65"/><circle cx="259.7" cy="209.8" r="2.65"/><circle cx="261.7" cy="210.1" r="2.65"/><circle cx="264.2" cy="208.0" r="2.65"/><circle cx="267.5" cy="209.3" r="2.65"/><circle cx="269.1" cy="209.7" r="2.65"/><circle cx="274.0" cy="208.8" r="2.65"/><circle cx="275.4" cy="210.0" r="2.65"/><circle cx="278.3" cy="209.8" r="2.65"/><circle cx="233.5" cy="211.9" r="2.65"/><circle cx="236.9" cy="210.6" r="2.65"/><circle cx="237.8" cy="211.9" r="2.65"/><circle cx="241.5" cy="212.6" r="2.65"/><circle cx="243.4" cy="212.6" r="2.65"/><circle cx="247.4" cy="211.4" r="2.65"/><circle cx="250.3" cy="212.2" r="2.65"/><circle cx="252.3" cy="211.3" r="2.65"/><circle cx="254.3" cy="211.7" r="2.65"/><circle cx="258.9" cy="210.8" r="2.65"/><circle cx="262.1" cy="212.2" r="2.65"/><circle cx="262.3" cy="210.3" r="2.65"/><circle cx="265.8" cy="211.8" r="2.65"/><circle cx="269.3" cy="211.4" r="2.65"/><circle cx="270.5" cy="210.7" r="2.65"/><circle cx="274.4" cy="212.5" r="2.65"/><circle cx="276.1" cy="211.4" r="2.65"/><circle cx="278.3" cy="211.4" r="2.65"/><circle cx="235.8" cy="212.4" r="2.65"/><circle cx="237.6" cy="212.4" r="2.65"/><circle cx="240.1" cy="215.0" r="2.65"/><circle cx="243.7" cy="212.9" r="2.65"/><circle cx="244.6" cy="214.4" r="2.65"/><circle cx="247.4" cy="215.0" r="2.65"/><circle cx="250.8" cy="213.6" r="2.65"/><circle cx="253.1" cy="212.5" r="2.65"/><circle cx="256.0" cy="212.5" r="2.65"/><circle cx="258.5" cy="212.5" r="2.65"/><circle cx="263.0" cy="213.5" r="2.65"/><circle cx="265.8" cy="212.8" r="2.65"/><circle cx="266.3" cy="214.6" r="2.65"/><circle cx="270.4" cy="213.7" r="2.65"/><circle cx="274.0" cy="214.5" r="2.65"/><circle cx="276.1" cy="212.9" r="2.65"/><circle cx="278.3" cy="212.4" r="2.65"/><circle cx="234.5" cy="215.4" r="2.65"/><circle cx="237.1" cy="216.3" r="2.65"/><circle cx="238.3" cy="215.6" r="2.65"/><circle cx="241.8" cy="214.9" r="2.65"/><circle cx="245.9" cy="214.7" r="2.65"/><circle cx="247.0" cy="217.3" r="2.65"/><circle cx="249.4" cy="216.0" r="2.65"/><circle cx="253.7" cy="216.5" r="2.65"/><circle cx="256.4" cy="217.1" r="2.65"/><circle cx="258.9" cy="217.1" r="2.65"/><circle cx="261.9" cy="215.5" r="2.65"/><circle cx="264.2" cy="216.9" r="2.65"/><circle cx="267.2" cy="216.4" r="2.65"/><circle cx="270.1" cy="215.8" r="2.65"/><circle cx="272.7" cy="215.7" r="2.65"/><circle cx="275.3" cy="216.8" r="2.65"/><circle cx="276.5" cy="216.0" r="2.65"/><circle cx="237.7" cy="219.1" r="2.65"/><circle cx="241.8" cy="219.2" r="2.65"/><circle cx="242.0" cy="218.3" r="2.65"/><circle cx="245.4" cy="217.2" r="2.65"/><circle cx="248.5" cy="218.5" r="2.65"/><circle cx="252.0" cy="219.3" r="2.65"/><circle cx="252.9" cy="218.3" r="2.65"/><circle cx="258.0" cy="217.9" r="2.65"/><circle cx="258.7" cy="217.3" r="2.65"/><circle cx="262.2" cy="217.7" r="2.65"/><circle cx="264.5" cy="217.5" r="2.65"/><circle cx="268.2" cy="219.2" r="2.65"/><circle cx="271.4" cy="219.6" r="2.65"/><circle cx="271.9" cy="218.4" r="2.65"/><circle cx="275.2" cy="217.6" r="2.65"/><circle cx="243.0" cy="219.8" r="2.65"/><circle cx="245.1" cy="219.8" r="2.65"/><circle cx="247.6" cy="221.7" r="2.65"/><circle cx="250.7" cy="221.1" r="2.65"/><circle cx="253.2" cy="220.1" r="2.65"/><circle cx="255.2" cy="219.4" r="2.65"/><circle cx="256.8" cy="222.0" r="2.65"/><circle cx="261.8" cy="220.9" r="2.65"/><circle cx="262.2" cy="220.3" r="2.65"/><circle cx="265.2" cy="221.2" r="2.65"/><circle cx="268.7" cy="219.5" r="2.65"/><circle cx="272.5" cy="222.0" r="2.65"/><circle cx="272.9" cy="221.7" r="2.65"/><circle cx="242.7" cy="223.6" r="2.65"/><circle cx="246.2" cy="223.9" r="2.65"/><circle cx="247.5" cy="224.1" r="2.65"/><circle cx="250.2" cy="223.7" r="2.65"/><circle cx="254.0" cy="222.8" r="2.65"/><circle cx="256.6" cy="222.0" r="2.65"/><circle cx="260.3" cy="222.8" r="2.65"/><circle cx="261.8" cy="223.3" r="2.65"/><circle cx="264.1" cy="223.3" r="2.65"/><circle cx="268.6" cy="221.8" r="2.65"/><circle cx="269.8" cy="223.2" r="2.65"/><circle cx="272.0" cy="223.1" r="2.65"/><circle cx="245.4" cy="225.5" r="2.65"/><circle cx="248.5" cy="224.5" r="2.65"/><circle cx="248.9" cy="224.3" r="2.65"/><circle cx="252.4" cy="226.3" r="2.65"/><circle cx="254.3" cy="224.2" r="2.65"/><circle cx="257.2" cy="224.5" r="2.65"/><circle cx="261.5" cy="226.1" r="2.65"/><circle cx="263.0" cy="224.7" r="2.65"/><circle cx="265.8" cy="225.9" r="2.65"/><circle cx="268.1" cy="225.5" r="2.65"/><circle cx="248.4" cy="226.5" r="2.65"/><circle cx="251.9" cy="227.8" r="2.65"/><circle cx="255.2" cy="227.2" r="2.65"/><circle cx="256.5" cy="228.9" r="2.65"/><circle cx="259.6" cy="228.4" r="2.65"/><circle cx="262.0" cy="226.9" r="2.65"/><circle cx="265.6" cy="227.9" r="2.65"/><circle cx="266.8" cy="228.5" r="2.65"/><circle cx="254.0" cy="230.0" r="2.65"/><circle cx="258.1" cy="230.4" r="2.65"/><circle cx="260.9" cy="230.5" r="2.65"/><circle cx="263.2" cy="231.3" r="2.65"/><circle cx="266.5" cy="231.3" r="2.65"/><circle cx="267.9" cy="228.7" r="2.65"/><circle cx="258.4" cy="231.3" r="2.65"/><circle cx="260.8" cy="231.3" r="2.65"/><circle cx="265.1" cy="232.2" r="2.65"/><circle cx="266.5" cy="231.1" r="2.65"/><circle cx="264.3" cy="234.5" r="2.65"/><circle cx="228.5" cy="160.3" r="2.65"/><circle cx="231.3" cy="166.8" r="2.65"/><circle cx="238.7" cy="166.8" r="2.65"/><circle cx="237.3" cy="28.4" r="2.65"/><circle cx="295.4" cy="26.6" r="2.65"/><circle cx="240.0" cy="54.5" r="2.65"/><circle cx="249.5" cy="69.1" r="2.65"/><circle cx="254.3" cy="75.2" r="2.65"/><circle cx="275.4" cy="69.7" r="2.65"/><circle cx="266.1" cy="76.7" r="2.65"/><circle cx="181.5" cy="68.5" r="2.65"/><circle cx="187.8" cy="81.3" r="2.65"/><circle cx="217.8" cy="93.6" r="2.65"/><circle cx="315.1" cy="65.1" r="2.65"/><circle cx="318.2" cy="81.5" r="2.65"/><circle cx="310.9" cy="81.8" r="2.65"/><circle cx="325.5" cy="83.1" r="2.65"/><circle cx="297.9" cy="79.3" r="2.65"/><circle cx="336.4" cy="89.5" r="2.65"/><circle cx="302.4" cy="86.9" r="2.65"/><circle cx="317.6" cy="89.1" r="2.65"/><circle cx="283.9" cy="90.1" r="2.65"/><circle cx="123.5" cy="39.5" r="2.65"/><circle cx="200.0" cy="105.9" r="2.65"/><circle cx="177.6" cy="115.9" r="2.65"/><circle cx="183.3" cy="115.0" r="2.65"/><circle cx="208.2" cy="113.7" r="2.65"/><circle cx="213.3" cy="112.6" r="2.65"/><circle cx="212.8" cy="125.8" r="2.65"/><circle cx="217.9" cy="127.1" r="2.65"/><circle cx="223.6" cy="127.7" r="2.65"/><circle cx="208.7" cy="115.0" r="2.65"/><circle cx="224.9" cy="120.1" r="2.65"/><circle cx="201.5" cy="164.9" r="2.65"/><circle cx="210.5" cy="179.6" r="2.65"/><circle cx="217.3" cy="181.8" r="2.65"/><circle cx="215.5" cy="184.5" r="2.65"/><circle cx="219.1" cy="169.1" r="2.65"/><circle cx="220.9" cy="175.5" r="2.65"/><circle cx="210.5" cy="200.4" r="2.65"/><circle cx="222.7" cy="194.5" r="2.65"/><circle cx="199.1" cy="217.3" r="2.65"/><circle cx="191.8" cy="226.7" r="2.65"/><circle cx="239.6" cy="226.0" r="2.65"/><circle cx="242.7" cy="234.5" r="2.65"/><circle cx="247.3" cy="232.7" r="2.65"/><circle cx="238.2" cy="242.7" r="2.65"/><circle cx="240.5" cy="244.5" r="2.65"/><circle cx="267.3" cy="242.7" r="2.65"/><circle cx="270.9" cy="236.4" r="2.65"/><circle cx="267.3" cy="249.1" r="2.65"/><circle cx="297.3" cy="216.4" r="2.65"/><circle cx="289.1" cy="217.6" r="2.65"/><circle cx="284.5" cy="218.7" r="2.65"/><circle cx="280.9" cy="214.5" r="2.65"/><circle cx="281.8" cy="228.5" r="2.65"/><circle cx="271.8" cy="236.4" r="2.65"/><circle cx="268.2" cy="241.5" r="2.65"/><circle cx="266.5" cy="243.0" r="2.65"/><circle cx="278.2" cy="242.7" r="2.65"/><circle cx="304.2" cy="228.2" r="2.65"/><circle cx="306.0" cy="237.3" r="2.65"/><circle cx="309.1" cy="239.1" r="2.65"/><circle cx="310.9" cy="242.2" r="2.65"/><circle cx="320.9" cy="232.7" r="2.65"/><circle cx="318.2" cy="237.3" r="2.65"/><circle cx="317.8" cy="242.4" r="2.65"/><circle cx="328.7" cy="156.3" r="2.65"/><circle cx="311.8" cy="172.6" r="2.65"/><circle cx="340.9" cy="173.7" r="2.65"/><circle cx="294.9" cy="187.2" r="2.65"/><circle cx="301.5" cy="188.6" r="2.65"/><circle cx="300.4" cy="194.5" r="2.65"/><circle cx="296.4" cy="169.5" r="2.65"/><circle cx="296.0" cy="162.3" r="2.65"/><circle cx="330.0" cy="127.3" r="2.65"/><circle cx="104.5" cy="209.5" r="2.65"/><circle cx="156.0" cy="202.0" r="2.65"/><circle cx="157.0" cy="211.5" r="2.65"/></g><path d="M258.6 202.4 l5.4 5.4 M264 202.4 l-5.4 5.4" stroke="#ff0000" stroke-width="2.4" fill="none"/><rect x="380.8" y="6" width="163" height="84.3" fill="#fff" stroke="#6e6e6e" stroke-width="1.25"/><circle cx="392.7" cy="15" r="2.4" fill="#00ff00"/><circle cx="392.7" cy="31.7" r="2.4" fill="#0072bd"/><circle cx="392.7" cy="48.4" r="2.4" fill="#a2142f"/><circle cx="392.7" cy="65.1" r="2.4" fill="#ff00ff"/><path d="M390.1 78.6 l5.4 5.4 M395.5 78.6 l-5.4 5.4" stroke="#ff0000" stroke-width="2.4" fill="none"/></svg>
<div class="t" style="left:244px;top:7px;transform:translateX(-50%);font-weight:bold;font-size:15.3px;color:#000">Horizontal Position</div>
<div class="t xt" style="left:87.5px">439550</div>
<div class="t xt" style="left:156.5px">439600</div>
<div class="t xt" style="left:225.5px">439650</div>
<div class="t xt" style="left:294.5px">439700</div>
<div class="t xt" style="left:363.5px">439750</div>
<div class="t yt" style="top:275.15px">4523080</div>
<div class="t yt" style="top:247.55px">4523100</div>
<div class="t yt" style="top:219.95px">4523120</div>
<div class="t yt" style="top:192.35px">4523140</div>
<div class="t yt" style="top:164.75px">4523160</div>
<div class="t yt" style="top:137.15px">4523180</div>
<div class="t yt" style="top:109.55px">4523200</div>
<div class="t yt" style="top:81.95px">4523220</div>
<div class="t yt" style="top:54.35px">4523240</div>
<div class="t" style="left:244.3px;top:303.6px;transform:translateX(-50%);font-size:15.8px">m</div>
<div class="t" style="left:6.6px;top:152.6px;transform:translate(-50%,-50%) rotate(-90deg);font-size:15.8px">m</div>
<div class="t lg" style="top:15.5px">GPS - no RAIM</div>
<div class="t lg" style="top:32.2px">GPS - RAIM</div>
<div class="t lg" style="top:48.9px">GPS/Glonass - no RAIM</div>
<div class="t lg" style="top:65.6px">GPS/Glonass - RAIM</div>
<div class="t lg" style="top:82.3px">Reference</div>
</div></body></html>
